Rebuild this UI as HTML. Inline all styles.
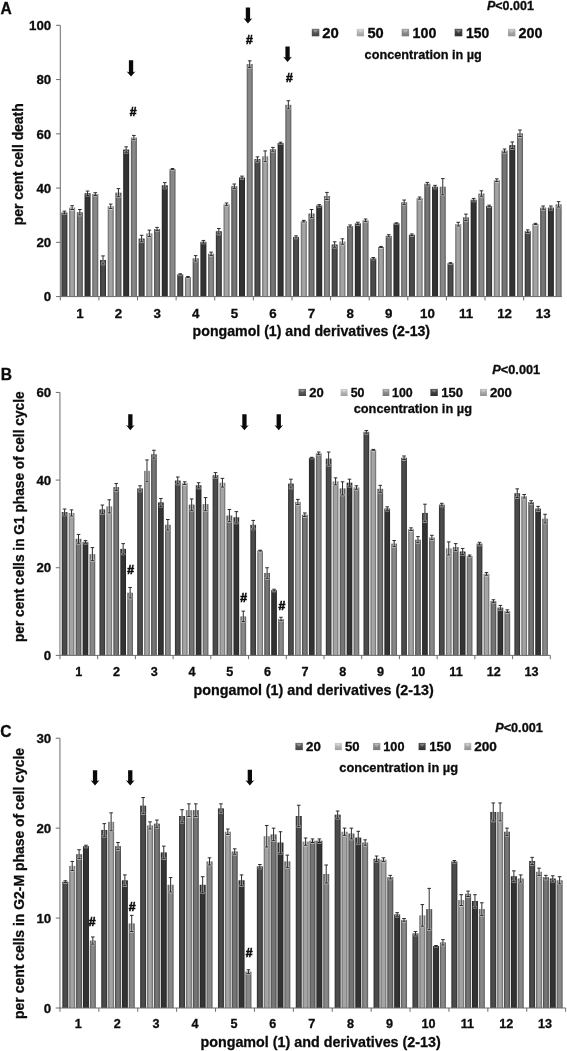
<!DOCTYPE html>
<html lang="en">
<head>
<meta charset="utf-8">
<title>Figure</title>
<style>html,body{margin:0;padding:0;background:#fff}svg{display:block}text{stroke:#0c0c0c;stroke-width:.3px}text.h{stroke-width:.6px}</style>
</head>
<body>
<svg width="567" height="1051" viewBox="0 0 567 1051" font-family='"Liberation Sans", Arial, sans-serif' fill="#0c0c0c">
<defs>
<linearGradient id="g0" x1="0" x2="1" y1="0" y2="0"><stop offset="0" stop-color="#2c2c2c"/><stop offset=".32" stop-color="#4b4b4b"/><stop offset=".68" stop-color="#4b4b4b"/><stop offset="1" stop-color="#2c2c2c"/></linearGradient>
<linearGradient id="s0" x1="0" x2="0" y1="0" y2="1"><stop offset="0" stop-color="#6a6a6a"/><stop offset="1" stop-color="#424242"/></linearGradient>
<linearGradient id="g1" x1="0" x2="1" y1="0" y2="0"><stop offset="0" stop-color="#636363"/><stop offset=".32" stop-color="#a4a4a4"/><stop offset=".68" stop-color="#a4a4a4"/><stop offset="1" stop-color="#636363"/></linearGradient>
<linearGradient id="s1" x1="0" x2="0" y1="0" y2="1"><stop offset="0" stop-color="#cccccc"/><stop offset="1" stop-color="#9e9e9e"/></linearGradient>
<linearGradient id="g2" x1="0" x2="1" y1="0" y2="0"><stop offset="0" stop-color="#444444"/><stop offset=".32" stop-color="#757575"/><stop offset=".68" stop-color="#757575"/><stop offset="1" stop-color="#444444"/></linearGradient>
<linearGradient id="s2" x1="0" x2="0" y1="0" y2="1"><stop offset="0" stop-color="#a0a0a0"/><stop offset="1" stop-color="#767676"/></linearGradient>
<linearGradient id="g3" x1="0" x2="1" y1="0" y2="0"><stop offset="0" stop-color="#242424"/><stop offset=".32" stop-color="#333333"/><stop offset=".68" stop-color="#333333"/><stop offset="1" stop-color="#242424"/></linearGradient>
<linearGradient id="s3" x1="0" x2="0" y1="0" y2="1"><stop offset="0" stop-color="#505050"/><stop offset="1" stop-color="#2e2e2e"/></linearGradient>
<linearGradient id="g4" x1="0" x2="1" y1="0" y2="0"><stop offset="0" stop-color="#565656"/><stop offset=".32" stop-color="#888888"/><stop offset=".68" stop-color="#888888"/><stop offset="1" stop-color="#565656"/></linearGradient>
<linearGradient id="s4" x1="0" x2="0" y1="0" y2="1"><stop offset="0" stop-color="#bcbcbc"/><stop offset="1" stop-color="#929292"/></linearGradient>
</defs>
<rect width="567" height="1051" fill="#fff"/>
<rect x="61.40" y="212.50" width="6.00" height="84.10" fill="url(#g0)"/>
<rect x="69.12" y="207.61" width="6.00" height="88.99" fill="url(#g1)"/>
<rect x="76.84" y="212.23" width="6.00" height="84.37" fill="url(#g2)"/>
<rect x="84.56" y="193.23" width="6.00" height="103.37" fill="url(#g3)"/>
<rect x="92.28" y="194.05" width="6.00" height="102.55" fill="url(#g4)"/>
<rect x="100.01" y="259.97" width="6.00" height="36.63" fill="url(#g0)"/>
<rect x="107.73" y="206.26" width="6.00" height="90.34" fill="url(#g1)"/>
<rect x="115.45" y="192.69" width="6.00" height="103.91" fill="url(#g2)"/>
<rect x="123.17" y="149.56" width="6.00" height="147.04" fill="url(#g3)"/>
<rect x="130.89" y="137.62" width="6.00" height="158.98" fill="url(#g4)"/>
<rect x="138.62" y="238.54" width="6.00" height="58.06" fill="url(#g0)"/>
<rect x="146.34" y="233.39" width="6.00" height="63.21" fill="url(#g1)"/>
<rect x="154.06" y="229.05" width="6.00" height="67.55" fill="url(#g2)"/>
<rect x="161.78" y="185.37" width="6.00" height="111.23" fill="url(#g3)"/>
<rect x="169.50" y="169.09" width="6.00" height="127.51" fill="url(#g4)"/>
<rect x="177.23" y="274.35" width="6.00" height="22.25" fill="url(#g0)"/>
<rect x="184.95" y="277.07" width="6.00" height="19.53" fill="url(#g1)"/>
<rect x="192.67" y="258.35" width="6.00" height="38.25" fill="url(#g2)"/>
<rect x="200.39" y="241.80" width="6.00" height="54.80" fill="url(#g3)"/>
<rect x="208.11" y="253.73" width="6.00" height="42.87" fill="url(#g4)"/>
<rect x="215.84" y="231.22" width="6.00" height="65.38" fill="url(#g0)"/>
<rect x="223.56" y="204.36" width="6.00" height="92.24" fill="url(#g1)"/>
<rect x="231.28" y="186.18" width="6.00" height="110.42" fill="url(#g2)"/>
<rect x="239.00" y="177.50" width="6.00" height="119.10" fill="url(#g3)"/>
<rect x="246.72" y="64.10" width="6.00" height="232.50" fill="url(#g4)"/>
<rect x="254.45" y="159.05" width="6.00" height="137.55" fill="url(#g0)"/>
<rect x="262.17" y="156.34" width="6.00" height="140.26" fill="url(#g1)"/>
<rect x="269.89" y="149.28" width="6.00" height="147.32" fill="url(#g2)"/>
<rect x="277.61" y="143.04" width="6.00" height="153.56" fill="url(#g3)"/>
<rect x="285.33" y="104.79" width="6.00" height="191.81" fill="url(#g4)"/>
<rect x="293.06" y="236.91" width="6.00" height="59.69" fill="url(#g0)"/>
<rect x="300.78" y="221.18" width="6.00" height="75.42" fill="url(#g1)"/>
<rect x="308.50" y="213.58" width="6.00" height="83.02" fill="url(#g2)"/>
<rect x="316.22" y="205.44" width="6.00" height="91.16" fill="url(#g3)"/>
<rect x="323.94" y="195.95" width="6.00" height="100.65" fill="url(#g4)"/>
<rect x="331.67" y="244.51" width="6.00" height="52.09" fill="url(#g0)"/>
<rect x="339.39" y="241.53" width="6.00" height="55.07" fill="url(#g1)"/>
<rect x="347.11" y="226.06" width="6.00" height="70.54" fill="url(#g2)"/>
<rect x="354.83" y="223.35" width="6.00" height="73.25" fill="url(#g3)"/>
<rect x="362.55" y="220.36" width="6.00" height="76.24" fill="url(#g4)"/>
<rect x="370.28" y="258.35" width="6.00" height="38.25" fill="url(#g0)"/>
<rect x="378.00" y="246.95" width="6.00" height="49.65" fill="url(#g1)"/>
<rect x="385.72" y="235.83" width="6.00" height="60.77" fill="url(#g2)"/>
<rect x="393.44" y="223.35" width="6.00" height="73.25" fill="url(#g3)"/>
<rect x="401.16" y="202.19" width="6.00" height="94.41" fill="url(#g4)"/>
<rect x="408.89" y="234.74" width="6.00" height="61.86" fill="url(#g0)"/>
<rect x="416.61" y="198.12" width="6.00" height="98.48" fill="url(#g1)"/>
<rect x="424.33" y="183.74" width="6.00" height="112.86" fill="url(#g2)"/>
<rect x="432.05" y="186.72" width="6.00" height="109.88" fill="url(#g3)"/>
<rect x="439.77" y="186.72" width="6.00" height="109.88" fill="url(#g4)"/>
<rect x="447.50" y="263.23" width="6.00" height="33.37" fill="url(#g0)"/>
<rect x="455.22" y="224.16" width="6.00" height="72.44" fill="url(#g1)"/>
<rect x="462.94" y="217.38" width="6.00" height="79.22" fill="url(#g2)"/>
<rect x="470.66" y="199.75" width="6.00" height="96.85" fill="url(#g3)"/>
<rect x="478.38" y="193.51" width="6.00" height="103.09" fill="url(#g4)"/>
<rect x="486.11" y="205.99" width="6.00" height="90.61" fill="url(#g0)"/>
<rect x="493.83" y="180.21" width="6.00" height="116.39" fill="url(#g1)"/>
<rect x="501.55" y="150.64" width="6.00" height="145.96" fill="url(#g2)"/>
<rect x="509.27" y="145.21" width="6.00" height="151.39" fill="url(#g3)"/>
<rect x="516.99" y="133.28" width="6.00" height="163.32" fill="url(#g4)"/>
<rect x="524.72" y="231.22" width="6.00" height="65.38" fill="url(#g0)"/>
<rect x="532.44" y="223.89" width="6.00" height="72.71" fill="url(#g1)"/>
<rect x="540.16" y="207.61" width="6.00" height="88.99" fill="url(#g2)"/>
<rect x="547.88" y="207.61" width="6.00" height="88.99" fill="url(#g3)"/>
<rect x="555.60" y="204.36" width="6.00" height="92.24" fill="url(#g4)"/>
<path d="M64.40 212.70V214.45M62.30 213.85H66.50" stroke="#fff" stroke-opacity=".6" stroke-width="2.4" fill="none"/>
<path d="M64.40 211.14V213.85M62.60 211.14H66.20M62.60 213.85H66.20" stroke="#222" stroke-width=".95" fill="none"/>
<path d="M72.12 207.81V210.11M70.02 209.51H74.22" stroke="#fff" stroke-opacity=".6" stroke-width="2.4" fill="none"/>
<path d="M72.12 205.71V209.51M70.32 205.71H73.92M70.32 209.51H73.92" stroke="#222" stroke-width=".95" fill="none"/>
<path d="M79.84 212.43V215.54M77.74 214.94H81.94" stroke="#fff" stroke-opacity=".6" stroke-width="2.4" fill="none"/>
<path d="M79.84 209.51V214.94M78.04 209.51H81.64M78.04 214.94H81.64" stroke="#222" stroke-width=".95" fill="none"/>
<path d="M87.56 193.43V196.01M85.46 195.41H89.66" stroke="#fff" stroke-opacity=".6" stroke-width="2.4" fill="none"/>
<path d="M87.56 191.06V195.41M85.76 191.06H89.36M85.76 195.41H89.36" stroke="#222" stroke-width=".95" fill="none"/>
<path d="M95.28 194.25V196.01M93.18 195.41H97.38" stroke="#fff" stroke-opacity=".6" stroke-width="2.4" fill="none"/>
<path d="M95.28 192.69V195.41M93.48 192.69H97.08M93.48 195.41H97.08" stroke="#222" stroke-width=".95" fill="none"/>
<path d="M103.01 260.17V264.64M100.91 264.04H105.11" stroke="#fff" stroke-opacity=".6" stroke-width="2.4" fill="none"/>
<path d="M103.01 255.91V264.04M101.21 255.91H104.81M101.21 264.04H104.81" stroke="#222" stroke-width=".95" fill="none"/>
<path d="M110.73 206.46V209.03M108.63 208.43H112.83" stroke="#fff" stroke-opacity=".6" stroke-width="2.4" fill="none"/>
<path d="M110.73 204.09V208.43M108.93 204.09H112.53M108.93 208.43H112.53" stroke="#222" stroke-width=".95" fill="none"/>
<path d="M118.45 192.89V197.36M116.35 196.76H120.55" stroke="#fff" stroke-opacity=".6" stroke-width="2.4" fill="none"/>
<path d="M118.45 188.62V196.76M116.65 188.62H120.25M116.65 196.76H120.25" stroke="#222" stroke-width=".95" fill="none"/>
<path d="M126.17 149.76V152.87M124.07 152.27H128.27" stroke="#fff" stroke-opacity=".6" stroke-width="2.4" fill="none"/>
<path d="M126.17 146.84V152.27M124.37 146.84H127.97M124.37 152.27H127.97" stroke="#222" stroke-width=".95" fill="none"/>
<path d="M133.89 137.82V140.39M131.79 139.79H135.99" stroke="#fff" stroke-opacity=".6" stroke-width="2.4" fill="none"/>
<path d="M133.89 135.45V139.79M132.09 135.45H135.69M132.09 139.79H135.69" stroke="#222" stroke-width=".95" fill="none"/>
<path d="M141.62 238.74V242.40M139.52 241.80H143.72" stroke="#fff" stroke-opacity=".6" stroke-width="2.4" fill="none"/>
<path d="M141.62 235.29V241.80M139.82 235.29H143.42M139.82 241.80H143.42" stroke="#222" stroke-width=".95" fill="none"/>
<path d="M149.34 233.59V237.24M147.24 236.64H151.44" stroke="#fff" stroke-opacity=".6" stroke-width="2.4" fill="none"/>
<path d="M149.34 230.13V236.64M147.54 230.13H151.14M147.54 236.64H151.14" stroke="#222" stroke-width=".95" fill="none"/>
<path d="M157.06 229.25V231.27M154.96 230.67H159.16" stroke="#fff" stroke-opacity=".6" stroke-width="2.4" fill="none"/>
<path d="M157.06 227.42V230.67M155.26 227.42H158.86M155.26 230.67H158.86" stroke="#222" stroke-width=".95" fill="none"/>
<path d="M164.78 185.57V188.68M162.68 188.08H166.88" stroke="#fff" stroke-opacity=".6" stroke-width="2.4" fill="none"/>
<path d="M164.78 182.65V188.08M162.98 182.65H166.58M162.98 188.08H166.58" stroke="#222" stroke-width=".95" fill="none"/>
<path d="M172.50 169.29V170.23M170.40 169.63H174.60" stroke="#fff" stroke-opacity=".6" stroke-width="2.4" fill="none"/>
<path d="M172.50 168.55V169.63M170.70 168.55H174.30M170.70 169.63H174.30" stroke="#222" stroke-width=".95" fill="none"/>
<path d="M180.23 274.55V275.50M178.13 274.90H182.33" stroke="#fff" stroke-opacity=".6" stroke-width="2.4" fill="none"/>
<path d="M180.23 273.81V274.90M178.43 273.81H182.03M178.43 274.90H182.03" stroke="#222" stroke-width=".95" fill="none"/>
<path d="M187.95 277.27V278.21M185.85 277.61H190.05" stroke="#fff" stroke-opacity=".6" stroke-width="2.4" fill="none"/>
<path d="M187.95 276.52V277.61M186.15 276.52H189.75M186.15 277.61H189.75" stroke="#222" stroke-width=".95" fill="none"/>
<path d="M195.67 258.55V261.66M193.57 261.06H197.77" stroke="#fff" stroke-opacity=".6" stroke-width="2.4" fill="none"/>
<path d="M195.67 255.63V261.06M193.87 255.63H197.47M193.87 261.06H197.47" stroke="#222" stroke-width=".95" fill="none"/>
<path d="M203.39 242.00V243.75M201.29 243.15H205.49" stroke="#fff" stroke-opacity=".6" stroke-width="2.4" fill="none"/>
<path d="M203.39 240.44V243.15M201.59 240.44H205.19M201.59 243.15H205.19" stroke="#222" stroke-width=".95" fill="none"/>
<path d="M211.11 253.93V255.96M209.01 255.36H213.21" stroke="#fff" stroke-opacity=".6" stroke-width="2.4" fill="none"/>
<path d="M211.11 252.11V255.36M209.31 252.11H212.91M209.31 255.36H212.91" stroke="#222" stroke-width=".95" fill="none"/>
<path d="M218.84 231.42V234.53M216.74 233.93H220.94" stroke="#fff" stroke-opacity=".6" stroke-width="2.4" fill="none"/>
<path d="M218.84 228.50V233.93M217.04 228.50H220.64M217.04 233.93H220.64" stroke="#222" stroke-width=".95" fill="none"/>
<path d="M226.56 204.56V206.31M224.46 205.71H228.66" stroke="#fff" stroke-opacity=".6" stroke-width="2.4" fill="none"/>
<path d="M226.56 203.00V205.71M224.76 203.00H228.36M224.76 205.71H228.36" stroke="#222" stroke-width=".95" fill="none"/>
<path d="M234.28 186.38V188.95M232.18 188.35H236.38" stroke="#fff" stroke-opacity=".6" stroke-width="2.4" fill="none"/>
<path d="M234.28 184.01V188.35M232.48 184.01H236.08M232.48 188.35H236.08" stroke="#222" stroke-width=".95" fill="none"/>
<path d="M242.00 177.70V179.46M239.90 178.86H244.10" stroke="#fff" stroke-opacity=".6" stroke-width="2.4" fill="none"/>
<path d="M242.00 176.14V178.86M240.20 176.14H243.80M240.20 178.86H243.80" stroke="#222" stroke-width=".95" fill="none"/>
<path d="M249.72 64.30V67.95M247.62 67.35H251.82" stroke="#fff" stroke-opacity=".6" stroke-width="2.4" fill="none"/>
<path d="M249.72 60.84V67.35M247.92 60.84H251.52M247.92 67.35H251.52" stroke="#222" stroke-width=".95" fill="none"/>
<path d="M257.45 159.25V161.82M255.35 161.22H259.55" stroke="#fff" stroke-opacity=".6" stroke-width="2.4" fill="none"/>
<path d="M257.45 156.88V161.22M255.65 156.88H259.25M255.65 161.22H259.25" stroke="#222" stroke-width=".95" fill="none"/>
<path d="M265.17 156.54V162.36M263.07 161.76H267.27" stroke="#fff" stroke-opacity=".6" stroke-width="2.4" fill="none"/>
<path d="M265.17 150.91V161.76M263.37 150.91H266.97M263.37 161.76H266.97" stroke="#222" stroke-width=".95" fill="none"/>
<path d="M272.89 149.48V151.78M270.79 151.18H274.99" stroke="#fff" stroke-opacity=".6" stroke-width="2.4" fill="none"/>
<path d="M272.89 147.39V151.18M271.09 147.39H274.69M271.09 151.18H274.69" stroke="#222" stroke-width=".95" fill="none"/>
<path d="M280.61 143.24V144.46M278.51 143.86H282.71" stroke="#fff" stroke-opacity=".6" stroke-width="2.4" fill="none"/>
<path d="M280.61 142.23V143.86M278.81 142.23H282.41M278.81 143.86H282.41" stroke="#222" stroke-width=".95" fill="none"/>
<path d="M288.33 104.99V109.46M286.23 108.86H290.43" stroke="#fff" stroke-opacity=".6" stroke-width="2.4" fill="none"/>
<path d="M288.33 100.72V108.86M286.53 100.72H290.13M286.53 108.86H290.13" stroke="#222" stroke-width=".95" fill="none"/>
<path d="M296.06 237.11V238.60M293.96 238.00H298.16" stroke="#fff" stroke-opacity=".6" stroke-width="2.4" fill="none"/>
<path d="M296.06 235.83V238.00M294.26 235.83H297.86M294.26 238.00H297.86" stroke="#222" stroke-width=".95" fill="none"/>
<path d="M303.78 221.38V222.59M301.68 221.99H305.88" stroke="#fff" stroke-opacity=".6" stroke-width="2.4" fill="none"/>
<path d="M303.78 220.36V221.99M301.98 220.36H305.58M301.98 221.99H305.58" stroke="#222" stroke-width=".95" fill="none"/>
<path d="M311.50 213.78V218.25M309.40 217.65H313.60" stroke="#fff" stroke-opacity=".6" stroke-width="2.4" fill="none"/>
<path d="M311.50 209.51V217.65M309.70 209.51H313.30M309.70 217.65H313.30" stroke="#222" stroke-width=".95" fill="none"/>
<path d="M319.22 205.64V206.86M317.12 206.26H321.32" stroke="#fff" stroke-opacity=".6" stroke-width="2.4" fill="none"/>
<path d="M319.22 204.63V206.26M317.42 204.63H321.02M317.42 206.26H321.02" stroke="#222" stroke-width=".95" fill="none"/>
<path d="M326.94 196.15V200.07M324.84 199.47H329.04" stroke="#fff" stroke-opacity=".6" stroke-width="2.4" fill="none"/>
<path d="M326.94 192.42V199.47M325.14 192.42H328.74M325.14 199.47H328.74" stroke="#222" stroke-width=".95" fill="none"/>
<path d="M334.67 244.71V247.82M332.57 247.22H336.77" stroke="#fff" stroke-opacity=".6" stroke-width="2.4" fill="none"/>
<path d="M334.67 241.80V247.22M332.87 241.80H336.47M332.87 247.22H336.47" stroke="#222" stroke-width=".95" fill="none"/>
<path d="M342.39 241.73V244.84M340.29 244.24H344.49" stroke="#fff" stroke-opacity=".6" stroke-width="2.4" fill="none"/>
<path d="M342.39 238.81V244.24M340.59 238.81H344.19M340.59 244.24H344.19" stroke="#222" stroke-width=".95" fill="none"/>
<path d="M350.11 226.26V227.75M348.01 227.15H352.21" stroke="#fff" stroke-opacity=".6" stroke-width="2.4" fill="none"/>
<path d="M350.11 224.98V227.15M348.31 224.98H351.91M348.31 227.15H351.91" stroke="#222" stroke-width=".95" fill="none"/>
<path d="M357.83 223.55V225.03M355.73 224.43H359.93" stroke="#fff" stroke-opacity=".6" stroke-width="2.4" fill="none"/>
<path d="M357.83 222.26V224.43M356.03 222.26H359.63M356.03 224.43H359.63" stroke="#222" stroke-width=".95" fill="none"/>
<path d="M365.55 220.56V222.32M363.45 221.72H367.65" stroke="#fff" stroke-opacity=".6" stroke-width="2.4" fill="none"/>
<path d="M365.55 219.01V221.72M363.75 219.01H367.35M363.75 221.72H367.35" stroke="#222" stroke-width=".95" fill="none"/>
<path d="M373.28 258.55V259.76M371.18 259.16H375.38" stroke="#fff" stroke-opacity=".6" stroke-width="2.4" fill="none"/>
<path d="M373.28 257.53V259.16M371.48 257.53H375.08M371.48 259.16H375.08" stroke="#222" stroke-width=".95" fill="none"/>
<path d="M381.00 247.15V248.09M378.90 247.49H383.10" stroke="#fff" stroke-opacity=".6" stroke-width="2.4" fill="none"/>
<path d="M381.00 246.41V247.49M379.20 246.41H382.80M379.20 247.49H382.80" stroke="#222" stroke-width=".95" fill="none"/>
<path d="M388.72 236.03V237.51M386.62 236.91H390.82" stroke="#fff" stroke-opacity=".6" stroke-width="2.4" fill="none"/>
<path d="M388.72 234.74V236.91M386.92 234.74H390.52M386.92 236.91H390.52" stroke="#222" stroke-width=".95" fill="none"/>
<path d="M396.44 223.55V224.49M394.34 223.89H398.54" stroke="#fff" stroke-opacity=".6" stroke-width="2.4" fill="none"/>
<path d="M396.44 222.81V223.89M394.64 222.81H398.24M394.64 223.89H398.24" stroke="#222" stroke-width=".95" fill="none"/>
<path d="M404.16 202.39V204.96M402.06 204.36H406.26" stroke="#fff" stroke-opacity=".6" stroke-width="2.4" fill="none"/>
<path d="M404.16 200.02V204.36M402.36 200.02H405.96M402.36 204.36H405.96" stroke="#222" stroke-width=".95" fill="none"/>
<path d="M411.89 234.94V236.16M409.79 235.56H413.99" stroke="#fff" stroke-opacity=".6" stroke-width="2.4" fill="none"/>
<path d="M411.89 233.93V235.56M410.09 233.93H413.69M410.09 235.56H413.69" stroke="#222" stroke-width=".95" fill="none"/>
<path d="M419.61 198.32V199.80M417.51 199.20H421.71" stroke="#fff" stroke-opacity=".6" stroke-width="2.4" fill="none"/>
<path d="M419.61 197.03V199.20M417.81 197.03H421.41M417.81 199.20H421.41" stroke="#222" stroke-width=".95" fill="none"/>
<path d="M427.33 183.94V185.70M425.23 185.10H429.43" stroke="#fff" stroke-opacity=".6" stroke-width="2.4" fill="none"/>
<path d="M427.33 182.38V185.10M425.53 182.38H429.13M425.53 185.10H429.13" stroke="#222" stroke-width=".95" fill="none"/>
<path d="M435.05 186.92V188.68M432.95 188.08H437.15" stroke="#fff" stroke-opacity=".6" stroke-width="2.4" fill="none"/>
<path d="M435.05 185.37V188.08M433.25 185.37H436.85M433.25 188.08H436.85" stroke="#222" stroke-width=".95" fill="none"/>
<path d="M442.77 186.92V195.46M440.67 194.86H444.87" stroke="#fff" stroke-opacity=".6" stroke-width="2.4" fill="none"/>
<path d="M442.77 178.58V194.86M440.97 178.58H444.57M440.97 194.86H444.57" stroke="#222" stroke-width=".95" fill="none"/>
<path d="M450.50 263.43V264.37M448.40 263.77H452.60" stroke="#fff" stroke-opacity=".6" stroke-width="2.4" fill="none"/>
<path d="M450.50 262.69V263.77M448.70 262.69H452.30M448.70 263.77H452.30" stroke="#222" stroke-width=".95" fill="none"/>
<path d="M458.22 224.36V226.66M456.12 226.06H460.32" stroke="#fff" stroke-opacity=".6" stroke-width="2.4" fill="none"/>
<path d="M458.22 222.26V226.06M456.42 222.26H460.02M456.42 226.06H460.02" stroke="#222" stroke-width=".95" fill="none"/>
<path d="M465.94 217.58V221.24M463.84 220.64H468.04" stroke="#fff" stroke-opacity=".6" stroke-width="2.4" fill="none"/>
<path d="M465.94 214.12V220.64M464.14 214.12H467.74M464.14 220.64H467.74" stroke="#222" stroke-width=".95" fill="none"/>
<path d="M473.66 199.95V201.70M471.56 201.10H475.76" stroke="#fff" stroke-opacity=".6" stroke-width="2.4" fill="none"/>
<path d="M473.66 198.39V201.10M471.86 198.39H475.46M471.86 201.10H475.46" stroke="#222" stroke-width=".95" fill="none"/>
<path d="M481.38 193.71V196.82M479.28 196.22H483.48" stroke="#fff" stroke-opacity=".6" stroke-width="2.4" fill="none"/>
<path d="M481.38 190.79V196.22M479.58 190.79H483.18M479.58 196.22H483.18" stroke="#222" stroke-width=".95" fill="none"/>
<path d="M489.11 206.19V207.40M487.01 206.80H491.21" stroke="#fff" stroke-opacity=".6" stroke-width="2.4" fill="none"/>
<path d="M489.11 205.17V206.80M487.31 205.17H490.91M487.31 206.80H490.91" stroke="#222" stroke-width=".95" fill="none"/>
<path d="M496.83 180.41V182.17M494.73 181.57H498.93" stroke="#fff" stroke-opacity=".6" stroke-width="2.4" fill="none"/>
<path d="M496.83 178.86V181.57M495.03 178.86H498.63M495.03 181.57H498.63" stroke="#222" stroke-width=".95" fill="none"/>
<path d="M504.55 150.84V152.87M502.45 152.27H506.65" stroke="#fff" stroke-opacity=".6" stroke-width="2.4" fill="none"/>
<path d="M504.55 149.01V152.27M502.75 149.01H506.35M502.75 152.27H506.35" stroke="#222" stroke-width=".95" fill="none"/>
<path d="M512.27 145.41V149.07M510.17 148.47H514.37" stroke="#fff" stroke-opacity=".6" stroke-width="2.4" fill="none"/>
<path d="M512.27 141.96V148.47M510.47 141.96H514.07M510.47 148.47H514.07" stroke="#222" stroke-width=".95" fill="none"/>
<path d="M519.99 133.48V137.13M517.89 136.53H522.09" stroke="#fff" stroke-opacity=".6" stroke-width="2.4" fill="none"/>
<path d="M519.99 130.02V136.53M518.19 130.02H521.79M518.19 136.53H521.79" stroke="#222" stroke-width=".95" fill="none"/>
<path d="M527.72 231.42V233.17M525.62 232.57H529.82" stroke="#fff" stroke-opacity=".6" stroke-width="2.4" fill="none"/>
<path d="M527.72 229.86V232.57M525.92 229.86H529.52M525.92 232.57H529.52" stroke="#222" stroke-width=".95" fill="none"/>
<path d="M535.44 224.09V225.03M533.34 224.43H537.54" stroke="#fff" stroke-opacity=".6" stroke-width="2.4" fill="none"/>
<path d="M535.44 223.35V224.43M533.64 223.35H537.24M533.64 224.43H537.24" stroke="#222" stroke-width=".95" fill="none"/>
<path d="M543.16 207.81V209.84M541.06 209.24H545.26" stroke="#fff" stroke-opacity=".6" stroke-width="2.4" fill="none"/>
<path d="M543.16 205.99V209.24M541.36 205.99H544.96M541.36 209.24H544.96" stroke="#222" stroke-width=".95" fill="none"/>
<path d="M550.88 207.81V209.84M548.78 209.24H552.98" stroke="#fff" stroke-opacity=".6" stroke-width="2.4" fill="none"/>
<path d="M550.88 205.99V209.24M549.08 205.99H552.68M549.08 209.24H552.68" stroke="#222" stroke-width=".95" fill="none"/>
<path d="M558.60 204.56V207.67M556.50 207.07H560.70" stroke="#fff" stroke-opacity=".6" stroke-width="2.4" fill="none"/>
<path d="M558.60 201.65V207.07M556.80 201.65H560.40M556.80 207.07H560.40" stroke="#222" stroke-width=".95" fill="none"/>
<path d="M60.30 25.30V296.60H561.90M56.10 296.60H60.30M56.10 242.34H60.30M56.10 188.08H60.30M56.10 133.82H60.30M56.10 79.56H60.30M56.10 25.30H60.30M60.30 296.60V300.40M98.91 296.60V300.40M137.52 296.60V300.40M176.13 296.60V300.40M214.74 296.60V300.40M253.35 296.60V300.40M291.96 296.60V300.40M330.57 296.60V300.40M369.18 296.60V300.40M407.79 296.60V300.40M446.40 296.60V300.40M485.01 296.60V300.40M523.62 296.60V300.40" stroke="#6c6c6c" stroke-width="1" fill="none"/>
<text x="51.20" y="301.35" font-size="13.3" font-weight="bold" text-anchor="end">0</text>
<text x="51.20" y="247.09" font-size="13.3" font-weight="bold" text-anchor="end">20</text>
<text x="51.20" y="192.83" font-size="13.3" font-weight="bold" text-anchor="end">40</text>
<text x="51.20" y="138.57" font-size="13.3" font-weight="bold" text-anchor="end">60</text>
<text x="51.20" y="84.31" font-size="13.3" font-weight="bold" text-anchor="end">80</text>
<text x="51.20" y="30.05" font-size="13.3" font-weight="bold" text-anchor="end">100</text>
<text x="79.90" y="317.80" font-size="13.3" font-weight="bold" text-anchor="middle">1</text>
<text x="118.52" y="317.80" font-size="13.3" font-weight="bold" text-anchor="middle">2</text>
<text x="157.12" y="317.80" font-size="13.3" font-weight="bold" text-anchor="middle">3</text>
<text x="195.74" y="317.80" font-size="13.3" font-weight="bold" text-anchor="middle">4</text>
<text x="234.35" y="317.80" font-size="13.3" font-weight="bold" text-anchor="middle">5</text>
<text x="272.95" y="317.80" font-size="13.3" font-weight="bold" text-anchor="middle">6</text>
<text x="311.56" y="317.80" font-size="13.3" font-weight="bold" text-anchor="middle">7</text>
<text x="350.18" y="317.80" font-size="13.3" font-weight="bold" text-anchor="middle">8</text>
<text x="388.79" y="317.80" font-size="13.3" font-weight="bold" text-anchor="middle">9</text>
<text x="427.40" y="317.80" font-size="13.3" font-weight="bold" text-anchor="middle">10</text>
<text x="466.00" y="317.80" font-size="13.3" font-weight="bold" text-anchor="middle">11</text>
<text x="504.62" y="317.80" font-size="13.3" font-weight="bold" text-anchor="middle">12</text>
<text x="543.22" y="317.80" font-size="13.3" font-weight="bold" text-anchor="middle">13</text>
<text x="0.60" y="13.60" font-size="15.6" font-weight="bold" text-anchor="start">A</text>
<text x="23.10" y="225.30" font-size="14.6" font-weight="bold" text-anchor="start" textLength="122.00" lengthAdjust="spacingAndGlyphs" transform="rotate(-90 23.10 225.30)">per cent cell death</text>
<text x="192.60" y="336.20" font-size="14.8" font-weight="bold" text-anchor="start" textLength="237.50" lengthAdjust="spacingAndGlyphs">pongamol (1) and derivatives (2-13)</text>
<rect x="311.80" y="28.80" width="7.50" height="7.50" fill="url(#s0)"/>
<path d="M312.60 29.70L315.55 32.92L318.50 29.70Z" fill="#fff" fill-opacity=".3"/>
<text x="322.20" y="38.30" font-size="13.8" font-weight="bold" text-anchor="start" textLength="16.60" lengthAdjust="spacingAndGlyphs">20</text>
<rect x="356.80" y="28.80" width="7.20" height="7.50" fill="url(#s1)"/>
<path d="M357.60 29.70L360.40 32.92L363.20 29.70Z" fill="#fff" fill-opacity=".3"/>
<text x="367.40" y="38.30" font-size="13.8" font-weight="bold" text-anchor="start" textLength="16.30" lengthAdjust="spacingAndGlyphs">50</text>
<rect x="401.70" y="28.80" width="7.40" height="7.50" fill="url(#s2)"/>
<path d="M402.50 29.70L405.40 32.92L408.30 29.70Z" fill="#fff" fill-opacity=".3"/>
<text x="412.60" y="38.30" font-size="13.8" font-weight="bold" text-anchor="start" textLength="23.80" lengthAdjust="spacingAndGlyphs">100</text>
<rect x="454.70" y="28.80" width="7.60" height="7.50" fill="url(#s3)"/>
<path d="M455.50 29.70L458.50 32.92L461.50 29.70Z" fill="#fff" fill-opacity=".3"/>
<text x="466.00" y="38.30" font-size="13.8" font-weight="bold" text-anchor="start" textLength="23.20" lengthAdjust="spacingAndGlyphs">150</text>
<rect x="508.00" y="28.80" width="7.40" height="7.50" fill="url(#s4)"/>
<path d="M508.80 29.70L511.70 32.92L514.60 29.70Z" fill="#fff" fill-opacity=".3"/>
<text x="518.60" y="38.30" font-size="13.8" font-weight="bold" text-anchor="start" textLength="24.00" lengthAdjust="spacingAndGlyphs">200</text>
<text x="364.60" y="59.00" font-size="13.5" font-weight="bold" text-anchor="start" textLength="117.20" lengthAdjust="spacingAndGlyphs">concentration in µg</text>
<text x="487" y="9.9" font-size="12.3" font-weight="bold" textLength="46.9" lengthAdjust="spacingAndGlyphs"><tspan font-style="italic">P</tspan>&lt;0.001</text>
<path d="M128.90 60.30H133.20V72.20L135.45 71.40L131.05 76.50L126.65 71.40L128.90 72.20Z" fill="#0a0a0a"/>
<text x="129.80" y="116.20" font-size="12.15" font-weight="bold" text-anchor="start" textLength="6.80" lengthAdjust="spacingAndGlyphs" class="h">#</text>
<path d="M245.80 7.60H250.10V19.10L252.35 18.30L247.95 23.40L243.55 18.30L245.80 19.10Z" fill="#0a0a0a"/>
<text x="246.10" y="43.60" font-size="12.15" font-weight="bold" text-anchor="start" textLength="6.80" lengthAdjust="spacingAndGlyphs" class="h">#</text>
<path d="M285.40 46.60H289.70V57.60L291.95 56.80L287.55 61.90L283.15 56.80L285.40 57.60Z" fill="#0a0a0a"/>
<text x="286.00" y="82.10" font-size="12.15" font-weight="bold" text-anchor="start" textLength="6.80" lengthAdjust="spacingAndGlyphs" class="h">#</text>
<rect x="61.75" y="512.08" width="5.70" height="143.32" fill="url(#g0)"/>
<rect x="68.70" y="512.95" width="5.70" height="142.45" fill="url(#g1)"/>
<rect x="75.65" y="538.81" width="5.70" height="116.59" fill="url(#g2)"/>
<rect x="82.60" y="541.88" width="5.70" height="113.52" fill="url(#g3)"/>
<rect x="89.55" y="554.15" width="5.70" height="101.25" fill="url(#g4)"/>
<rect x="99.47" y="509.45" width="5.70" height="145.95" fill="url(#g0)"/>
<rect x="106.42" y="506.38" width="5.70" height="149.02" fill="url(#g1)"/>
<rect x="113.37" y="487.09" width="5.70" height="168.31" fill="url(#g2)"/>
<rect x="120.32" y="548.89" width="5.70" height="106.51" fill="url(#g3)"/>
<rect x="127.27" y="592.72" width="5.70" height="62.68" fill="url(#g4)"/>
<rect x="137.19" y="488.41" width="5.70" height="166.99" fill="url(#g0)"/>
<rect x="144.14" y="470.88" width="5.70" height="184.52" fill="url(#g1)"/>
<rect x="151.09" y="454.22" width="5.70" height="201.18" fill="url(#g2)"/>
<rect x="158.04" y="502.43" width="5.70" height="152.97" fill="url(#g3)"/>
<rect x="164.99" y="524.79" width="5.70" height="130.61" fill="url(#g4)"/>
<rect x="174.91" y="480.52" width="5.70" height="174.88" fill="url(#g0)"/>
<rect x="181.86" y="483.15" width="5.70" height="172.25" fill="url(#g1)"/>
<rect x="188.81" y="504.62" width="5.70" height="150.78" fill="url(#g2)"/>
<rect x="195.76" y="485.34" width="5.70" height="170.06" fill="url(#g3)"/>
<rect x="202.71" y="504.19" width="5.70" height="151.21" fill="url(#g4)"/>
<rect x="212.63" y="475.26" width="5.70" height="180.14" fill="url(#g0)"/>
<rect x="219.58" y="482.71" width="5.70" height="172.69" fill="url(#g1)"/>
<rect x="226.53" y="515.58" width="5.70" height="139.82" fill="url(#g2)"/>
<rect x="233.48" y="517.34" width="5.70" height="138.06" fill="url(#g3)"/>
<rect x="240.43" y="616.39" width="5.70" height="39.01" fill="url(#g4)"/>
<rect x="250.35" y="524.79" width="5.70" height="130.61" fill="url(#g0)"/>
<rect x="257.30" y="550.65" width="5.70" height="104.75" fill="url(#g1)"/>
<rect x="264.25" y="573.00" width="5.70" height="82.40" fill="url(#g2)"/>
<rect x="271.20" y="590.09" width="5.70" height="65.31" fill="url(#g3)"/>
<rect x="278.15" y="619.02" width="5.70" height="36.38" fill="url(#g4)"/>
<rect x="288.07" y="483.59" width="5.70" height="171.81" fill="url(#g0)"/>
<rect x="295.02" y="502.00" width="5.70" height="153.41" fill="url(#g1)"/>
<rect x="301.97" y="514.71" width="5.70" height="140.69" fill="url(#g2)"/>
<rect x="308.92" y="457.73" width="5.70" height="197.67" fill="url(#g3)"/>
<rect x="315.87" y="453.34" width="5.70" height="202.06" fill="url(#g4)"/>
<rect x="325.79" y="458.60" width="5.70" height="196.80" fill="url(#g0)"/>
<rect x="332.74" y="481.39" width="5.70" height="174.01" fill="url(#g1)"/>
<rect x="339.69" y="488.41" width="5.70" height="166.99" fill="url(#g2)"/>
<rect x="346.64" y="482.71" width="5.70" height="172.69" fill="url(#g3)"/>
<rect x="353.59" y="487.53" width="5.70" height="167.87" fill="url(#g4)"/>
<rect x="363.51" y="431.87" width="5.70" height="223.53" fill="url(#g0)"/>
<rect x="370.46" y="449.84" width="5.70" height="205.56" fill="url(#g1)"/>
<rect x="377.41" y="488.85" width="5.70" height="166.55" fill="url(#g2)"/>
<rect x="384.36" y="508.57" width="5.70" height="146.83" fill="url(#g3)"/>
<rect x="391.31" y="543.63" width="5.70" height="111.77" fill="url(#g4)"/>
<rect x="401.23" y="457.73" width="5.70" height="197.67" fill="url(#g0)"/>
<rect x="408.18" y="529.17" width="5.70" height="126.23" fill="url(#g1)"/>
<rect x="415.13" y="539.69" width="5.70" height="115.71" fill="url(#g2)"/>
<rect x="422.08" y="512.95" width="5.70" height="142.45" fill="url(#g3)"/>
<rect x="429.03" y="537.50" width="5.70" height="117.90" fill="url(#g4)"/>
<rect x="438.95" y="504.62" width="5.70" height="150.78" fill="url(#g0)"/>
<rect x="445.90" y="548.45" width="5.70" height="106.95" fill="url(#g1)"/>
<rect x="452.85" y="547.14" width="5.70" height="108.26" fill="url(#g2)"/>
<rect x="459.80" y="551.52" width="5.70" height="103.88" fill="url(#g3)"/>
<rect x="466.75" y="555.91" width="5.70" height="99.49" fill="url(#g4)"/>
<rect x="476.67" y="543.63" width="5.70" height="111.77" fill="url(#g0)"/>
<rect x="483.62" y="573.88" width="5.70" height="81.52" fill="url(#g1)"/>
<rect x="490.57" y="601.05" width="5.70" height="54.35" fill="url(#g2)"/>
<rect x="497.52" y="607.63" width="5.70" height="47.77" fill="url(#g3)"/>
<rect x="504.47" y="611.13" width="5.70" height="44.27" fill="url(#g4)"/>
<rect x="514.39" y="493.23" width="5.70" height="162.17" fill="url(#g0)"/>
<rect x="521.34" y="496.30" width="5.70" height="159.10" fill="url(#g1)"/>
<rect x="528.29" y="502.00" width="5.70" height="153.41" fill="url(#g2)"/>
<rect x="535.24" y="508.57" width="5.70" height="146.83" fill="url(#g3)"/>
<rect x="542.19" y="518.65" width="5.70" height="136.75" fill="url(#g4)"/>
<path d="M64.60 512.28V515.74M62.50 515.14H66.70" stroke="#fff" stroke-opacity=".6" stroke-width="2.4" fill="none"/>
<path d="M64.60 509.01V515.14M62.80 509.01H66.40M62.80 515.14H66.40" stroke="#222" stroke-width=".95" fill="none"/>
<path d="M71.55 513.15V516.62M69.45 516.02H73.65" stroke="#fff" stroke-opacity=".6" stroke-width="2.4" fill="none"/>
<path d="M71.55 509.88V516.02M69.75 509.88H73.35M69.75 516.02H73.35" stroke="#222" stroke-width=".95" fill="none"/>
<path d="M78.50 539.01V543.80M76.40 543.20H80.60" stroke="#fff" stroke-opacity=".6" stroke-width="2.4" fill="none"/>
<path d="M78.50 534.43V543.20M76.70 534.43H80.30M76.70 543.20H80.30" stroke="#222" stroke-width=".95" fill="none"/>
<path d="M85.45 542.08V543.80M83.35 543.20H87.55" stroke="#fff" stroke-opacity=".6" stroke-width="2.4" fill="none"/>
<path d="M85.45 540.57V543.20M83.65 540.57H87.25M83.65 543.20H87.25" stroke="#222" stroke-width=".95" fill="none"/>
<path d="M92.40 554.35V561.33M90.30 560.73H94.50" stroke="#fff" stroke-opacity=".6" stroke-width="2.4" fill="none"/>
<path d="M92.40 547.58V560.73M90.60 547.58H94.20M90.60 560.73H94.20" stroke="#222" stroke-width=".95" fill="none"/>
<path d="M102.32 509.65V514.43M100.22 513.83H104.42" stroke="#fff" stroke-opacity=".6" stroke-width="2.4" fill="none"/>
<path d="M102.32 505.06V513.83M100.52 505.06H104.12M100.52 513.83H104.12" stroke="#222" stroke-width=".95" fill="none"/>
<path d="M109.27 506.58V513.55M107.17 512.95H111.37" stroke="#fff" stroke-opacity=".6" stroke-width="2.4" fill="none"/>
<path d="M109.27 499.80V512.95M107.47 499.80H111.07M107.47 512.95H111.07" stroke="#222" stroke-width=".95" fill="none"/>
<path d="M116.22 487.29V491.20M114.12 490.60H118.32" stroke="#fff" stroke-opacity=".6" stroke-width="2.4" fill="none"/>
<path d="M116.22 483.59V490.60M114.42 483.59H118.02M114.42 490.60H118.02" stroke="#222" stroke-width=".95" fill="none"/>
<path d="M123.17 549.09V554.75M121.07 554.15H125.27" stroke="#fff" stroke-opacity=".6" stroke-width="2.4" fill="none"/>
<path d="M123.17 543.63V554.15M121.37 543.63H124.97M121.37 554.15H124.97" stroke="#222" stroke-width=".95" fill="none"/>
<path d="M130.12 592.92V598.58M128.02 597.98H132.22" stroke="#fff" stroke-opacity=".6" stroke-width="2.4" fill="none"/>
<path d="M130.12 587.46V597.98M128.32 587.46H131.92M128.32 597.98H131.92" stroke="#222" stroke-width=".95" fill="none"/>
<path d="M140.04 488.61V491.64M137.94 491.04H142.14" stroke="#fff" stroke-opacity=".6" stroke-width="2.4" fill="none"/>
<path d="M140.04 485.78V491.04M138.24 485.78H141.84M138.24 491.04H141.84" stroke="#222" stroke-width=".95" fill="none"/>
<path d="M146.99 471.08V482.43M144.89 481.83H149.09" stroke="#fff" stroke-opacity=".6" stroke-width="2.4" fill="none"/>
<path d="M146.99 459.92V481.83M145.19 459.92H148.79M145.19 481.83H148.79" stroke="#222" stroke-width=".95" fill="none"/>
<path d="M153.94 454.42V458.76M151.84 458.16H156.04" stroke="#fff" stroke-opacity=".6" stroke-width="2.4" fill="none"/>
<path d="M153.94 450.28V458.16M152.14 450.28H155.74M152.14 458.16H155.74" stroke="#222" stroke-width=".95" fill="none"/>
<path d="M160.89 502.63V506.98M158.79 506.38H162.99" stroke="#fff" stroke-opacity=".6" stroke-width="2.4" fill="none"/>
<path d="M160.89 498.49V506.38M159.09 498.49H162.69M159.09 506.38H162.69" stroke="#222" stroke-width=".95" fill="none"/>
<path d="M167.84 524.99V530.65M165.74 530.05H169.94" stroke="#fff" stroke-opacity=".6" stroke-width="2.4" fill="none"/>
<path d="M167.84 519.53V530.05M166.04 519.53H169.64M166.04 530.05H169.64" stroke="#222" stroke-width=".95" fill="none"/>
<path d="M177.76 480.72V484.62M175.66 484.02H179.86" stroke="#fff" stroke-opacity=".6" stroke-width="2.4" fill="none"/>
<path d="M177.76 477.01V484.02M175.96 477.01H179.56M175.96 484.02H179.56" stroke="#222" stroke-width=".95" fill="none"/>
<path d="M184.71 483.35V485.06M182.61 484.46H186.81" stroke="#fff" stroke-opacity=".6" stroke-width="2.4" fill="none"/>
<path d="M184.71 481.83V484.46M182.91 481.83H186.51M182.91 484.46H186.51" stroke="#222" stroke-width=".95" fill="none"/>
<path d="M191.66 504.82V510.92M189.56 510.32H193.76" stroke="#fff" stroke-opacity=".6" stroke-width="2.4" fill="none"/>
<path d="M191.66 498.93V510.32M189.86 498.93H193.46M189.86 510.32H193.46" stroke="#222" stroke-width=".95" fill="none"/>
<path d="M198.61 485.54V488.57M196.51 487.97H200.71" stroke="#fff" stroke-opacity=".6" stroke-width="2.4" fill="none"/>
<path d="M198.61 482.71V487.97M196.81 482.71H200.41M196.81 487.97H200.41" stroke="#222" stroke-width=".95" fill="none"/>
<path d="M205.56 504.39V511.36M203.46 510.76H207.66" stroke="#fff" stroke-opacity=".6" stroke-width="2.4" fill="none"/>
<path d="M205.56 497.61V510.76M203.76 497.61H207.36M203.76 510.76H207.36" stroke="#222" stroke-width=".95" fill="none"/>
<path d="M215.48 475.46V478.49M213.38 477.89H217.58" stroke="#fff" stroke-opacity=".6" stroke-width="2.4" fill="none"/>
<path d="M215.48 472.63V477.89M213.68 472.63H217.28M213.68 477.89H217.28" stroke="#222" stroke-width=".95" fill="none"/>
<path d="M222.43 482.91V487.69M220.33 487.09H224.53" stroke="#fff" stroke-opacity=".6" stroke-width="2.4" fill="none"/>
<path d="M222.43 478.33V487.09M220.63 478.33H224.23M220.63 487.09H224.23" stroke="#222" stroke-width=".95" fill="none"/>
<path d="M229.38 515.78V522.32M227.28 521.72H231.48" stroke="#fff" stroke-opacity=".6" stroke-width="2.4" fill="none"/>
<path d="M229.38 509.45V521.72M227.58 509.45H231.18M227.58 521.72H231.18" stroke="#222" stroke-width=".95" fill="none"/>
<path d="M236.33 517.54V523.63M234.23 523.03H238.43" stroke="#fff" stroke-opacity=".6" stroke-width="2.4" fill="none"/>
<path d="M236.33 511.64V523.03M234.53 511.64H238.13M234.53 523.03H238.13" stroke="#222" stroke-width=".95" fill="none"/>
<path d="M243.28 616.59V622.25M241.18 621.65H245.38" stroke="#fff" stroke-opacity=".6" stroke-width="2.4" fill="none"/>
<path d="M243.28 611.13V621.65M241.48 611.13H245.08M241.48 621.65H245.08" stroke="#222" stroke-width=".95" fill="none"/>
<path d="M253.20 524.99V529.77M251.10 529.17H255.30" stroke="#fff" stroke-opacity=".6" stroke-width="2.4" fill="none"/>
<path d="M253.20 520.40V529.17M251.40 520.40H255.00M251.40 529.17H255.00" stroke="#222" stroke-width=".95" fill="none"/>
<path d="M260.15 550.85V551.68M258.05 551.08H262.25" stroke="#fff" stroke-opacity=".6" stroke-width="2.4" fill="none"/>
<path d="M260.15 550.21V551.08M258.35 550.21H261.95M258.35 551.08H261.95" stroke="#222" stroke-width=".95" fill="none"/>
<path d="M267.10 573.20V578.86M265.00 578.26H269.20" stroke="#fff" stroke-opacity=".6" stroke-width="2.4" fill="none"/>
<path d="M267.10 567.74V578.26M265.30 567.74H268.90M265.30 578.26H268.90" stroke="#222" stroke-width=".95" fill="none"/>
<path d="M274.05 590.29V591.57M271.95 590.97H276.15" stroke="#fff" stroke-opacity=".6" stroke-width="2.4" fill="none"/>
<path d="M274.05 589.22V590.97M272.25 589.22H275.85M272.25 590.97H275.85" stroke="#222" stroke-width=".95" fill="none"/>
<path d="M281.00 619.22V621.37M278.90 620.77H283.10" stroke="#fff" stroke-opacity=".6" stroke-width="2.4" fill="none"/>
<path d="M281.00 617.27V620.77M279.20 617.27H282.80M279.20 620.77H282.80" stroke="#222" stroke-width=".95" fill="none"/>
<path d="M290.92 483.79V488.57M288.82 487.97H293.02" stroke="#fff" stroke-opacity=".6" stroke-width="2.4" fill="none"/>
<path d="M290.92 479.20V487.97M289.12 479.20H292.72M289.12 487.97H292.72" stroke="#222" stroke-width=".95" fill="none"/>
<path d="M297.87 502.19V505.22M295.77 504.62H299.97" stroke="#fff" stroke-opacity=".6" stroke-width="2.4" fill="none"/>
<path d="M297.87 499.37V504.62M296.07 499.37H299.67M296.07 504.62H299.67" stroke="#222" stroke-width=".95" fill="none"/>
<path d="M304.82 514.91V517.06M302.72 516.46H306.92" stroke="#fff" stroke-opacity=".6" stroke-width="2.4" fill="none"/>
<path d="M304.82 512.95V516.46M303.02 512.95H306.62M303.02 516.46H306.62" stroke="#222" stroke-width=".95" fill="none"/>
<path d="M311.77 457.93V458.76M309.67 458.16H313.87" stroke="#fff" stroke-opacity=".6" stroke-width="2.4" fill="none"/>
<path d="M311.77 457.29V458.16M309.97 457.29H313.57M309.97 458.16H313.57" stroke="#222" stroke-width=".95" fill="none"/>
<path d="M318.72 453.54V455.26M316.62 454.66H320.82" stroke="#fff" stroke-opacity=".6" stroke-width="2.4" fill="none"/>
<path d="M318.72 452.03V454.66M316.92 452.03H320.52M316.92 454.66H320.52" stroke="#222" stroke-width=".95" fill="none"/>
<path d="M328.64 458.80V465.78M326.54 465.18H330.74" stroke="#fff" stroke-opacity=".6" stroke-width="2.4" fill="none"/>
<path d="M328.64 452.03V465.18M326.84 452.03H330.44M326.84 465.18H330.44" stroke="#222" stroke-width=".95" fill="none"/>
<path d="M335.59 481.59V485.50M333.49 484.90H337.69" stroke="#fff" stroke-opacity=".6" stroke-width="2.4" fill="none"/>
<path d="M335.59 477.89V484.90M333.79 477.89H337.39M333.79 484.90H337.39" stroke="#222" stroke-width=".95" fill="none"/>
<path d="M342.54 488.61V495.58M340.44 494.98H344.64" stroke="#fff" stroke-opacity=".6" stroke-width="2.4" fill="none"/>
<path d="M342.54 481.83V494.98M340.74 481.83H344.34M340.74 494.98H344.34" stroke="#222" stroke-width=".95" fill="none"/>
<path d="M349.49 482.91V486.82M347.39 486.22H351.59" stroke="#fff" stroke-opacity=".6" stroke-width="2.4" fill="none"/>
<path d="M349.49 479.20V486.22M347.69 479.20H351.29M347.69 486.22H351.29" stroke="#222" stroke-width=".95" fill="none"/>
<path d="M356.44 487.73V489.88M354.34 489.28H358.54" stroke="#fff" stroke-opacity=".6" stroke-width="2.4" fill="none"/>
<path d="M356.44 485.78V489.28M354.64 485.78H358.24M354.64 489.28H358.24" stroke="#222" stroke-width=".95" fill="none"/>
<path d="M366.36 432.07V433.78M364.26 433.18H368.46" stroke="#fff" stroke-opacity=".6" stroke-width="2.4" fill="none"/>
<path d="M366.36 430.55V433.18M364.56 430.55H368.16M364.56 433.18H368.16" stroke="#222" stroke-width=".95" fill="none"/>
<path d="M373.31 450.04V450.88M371.21 450.28H375.41" stroke="#fff" stroke-opacity=".6" stroke-width="2.4" fill="none"/>
<path d="M373.31 449.40V450.28M371.51 449.40H375.11M371.51 450.28H375.11" stroke="#222" stroke-width=".95" fill="none"/>
<path d="M380.26 489.05V492.95M378.16 492.35H382.36" stroke="#fff" stroke-opacity=".6" stroke-width="2.4" fill="none"/>
<path d="M380.26 485.34V492.35M378.46 485.34H382.06M378.46 492.35H382.06" stroke="#222" stroke-width=".95" fill="none"/>
<path d="M387.21 508.77V510.92M385.11 510.32H389.31" stroke="#fff" stroke-opacity=".6" stroke-width="2.4" fill="none"/>
<path d="M387.21 506.82V510.32M385.41 506.82H389.01M385.41 510.32H389.01" stroke="#222" stroke-width=".95" fill="none"/>
<path d="M394.16 543.83V547.30M392.06 546.70H396.26" stroke="#fff" stroke-opacity=".6" stroke-width="2.4" fill="none"/>
<path d="M394.16 540.57V546.70M392.36 540.57H395.96M392.36 546.70H395.96" stroke="#222" stroke-width=".95" fill="none"/>
<path d="M404.08 457.93V460.08M401.98 459.48H406.18" stroke="#fff" stroke-opacity=".6" stroke-width="2.4" fill="none"/>
<path d="M404.08 455.97V459.48M402.28 455.97H405.88M402.28 459.48H405.88" stroke="#222" stroke-width=".95" fill="none"/>
<path d="M411.03 529.37V531.08M408.93 530.48H413.13" stroke="#fff" stroke-opacity=".6" stroke-width="2.4" fill="none"/>
<path d="M411.03 527.85V530.48M409.23 527.85H412.83M409.23 530.48H412.83" stroke="#222" stroke-width=".95" fill="none"/>
<path d="M417.98 539.89V543.36M415.88 542.76H420.08" stroke="#fff" stroke-opacity=".6" stroke-width="2.4" fill="none"/>
<path d="M417.98 536.62V542.76M416.18 536.62H419.78M416.18 542.76H419.78" stroke="#222" stroke-width=".95" fill="none"/>
<path d="M424.93 513.15V522.32M422.83 521.72H427.03" stroke="#fff" stroke-opacity=".6" stroke-width="2.4" fill="none"/>
<path d="M424.93 504.19V521.72M423.13 504.19H426.73M423.13 521.72H426.73" stroke="#222" stroke-width=".95" fill="none"/>
<path d="M431.88 537.70V540.29M429.78 539.69H433.98" stroke="#fff" stroke-opacity=".6" stroke-width="2.4" fill="none"/>
<path d="M431.88 535.31V539.69M430.08 535.31H433.68M430.08 539.69H433.68" stroke="#222" stroke-width=".95" fill="none"/>
<path d="M441.80 504.82V506.54M439.70 505.94H443.90" stroke="#fff" stroke-opacity=".6" stroke-width="2.4" fill="none"/>
<path d="M441.80 503.31V505.94M440.00 503.31H443.60M440.00 505.94H443.60" stroke="#222" stroke-width=".95" fill="none"/>
<path d="M448.75 548.65V555.63M446.65 555.03H450.85" stroke="#fff" stroke-opacity=".6" stroke-width="2.4" fill="none"/>
<path d="M448.75 541.88V555.03M446.95 541.88H450.55M446.95 555.03H450.55" stroke="#222" stroke-width=".95" fill="none"/>
<path d="M455.70 547.34V551.25M453.60 550.65H457.80" stroke="#fff" stroke-opacity=".6" stroke-width="2.4" fill="none"/>
<path d="M455.70 543.63V550.65M453.90 543.63H457.50M453.90 550.65H457.50" stroke="#222" stroke-width=".95" fill="none"/>
<path d="M462.65 551.72V555.19M460.55 554.59H464.75" stroke="#fff" stroke-opacity=".6" stroke-width="2.4" fill="none"/>
<path d="M462.65 548.45V554.59M460.85 548.45H464.45M460.85 554.59H464.45" stroke="#222" stroke-width=".95" fill="none"/>
<path d="M469.60 556.11V557.38M467.50 556.78H471.70" stroke="#fff" stroke-opacity=".6" stroke-width="2.4" fill="none"/>
<path d="M469.60 555.03V556.78M467.80 555.03H471.40M467.80 556.78H471.40" stroke="#222" stroke-width=".95" fill="none"/>
<path d="M479.52 543.83V545.55M477.42 544.95H481.62" stroke="#fff" stroke-opacity=".6" stroke-width="2.4" fill="none"/>
<path d="M479.52 542.32V544.95M477.72 542.32H481.32M477.72 544.95H481.32" stroke="#222" stroke-width=".95" fill="none"/>
<path d="M486.47 574.08V575.79M484.37 575.19H488.57" stroke="#fff" stroke-opacity=".6" stroke-width="2.4" fill="none"/>
<path d="M486.47 572.56V575.19M484.67 572.56H488.27M484.67 575.19H488.27" stroke="#222" stroke-width=".95" fill="none"/>
<path d="M493.42 601.25V602.97M491.32 602.37H495.52" stroke="#fff" stroke-opacity=".6" stroke-width="2.4" fill="none"/>
<path d="M493.42 599.74V602.37M491.62 599.74H495.22M491.62 602.37H495.22" stroke="#222" stroke-width=".95" fill="none"/>
<path d="M500.37 607.83V610.42M498.27 609.82H502.47" stroke="#fff" stroke-opacity=".6" stroke-width="2.4" fill="none"/>
<path d="M500.37 605.43V609.82M498.57 605.43H502.17M498.57 609.82H502.17" stroke="#222" stroke-width=".95" fill="none"/>
<path d="M507.32 611.33V613.05M505.22 612.45H509.42" stroke="#fff" stroke-opacity=".6" stroke-width="2.4" fill="none"/>
<path d="M507.32 609.82V612.45M505.52 609.82H509.12M505.52 612.45H509.12" stroke="#222" stroke-width=".95" fill="none"/>
<path d="M517.24 493.43V498.21M515.14 497.61H519.34" stroke="#fff" stroke-opacity=".6" stroke-width="2.4" fill="none"/>
<path d="M517.24 488.85V497.61M515.44 488.85H519.04M515.44 497.61H519.04" stroke="#222" stroke-width=".95" fill="none"/>
<path d="M524.19 496.50V498.65M522.09 498.05H526.29" stroke="#fff" stroke-opacity=".6" stroke-width="2.4" fill="none"/>
<path d="M524.19 494.54V498.05M522.39 494.54H525.99M522.39 498.05H525.99" stroke="#222" stroke-width=".95" fill="none"/>
<path d="M531.14 502.19V503.91M529.04 503.31H533.24" stroke="#fff" stroke-opacity=".6" stroke-width="2.4" fill="none"/>
<path d="M531.14 500.68V503.31M529.34 500.68H532.94M529.34 503.31H532.94" stroke="#222" stroke-width=".95" fill="none"/>
<path d="M538.09 508.77V511.36M535.99 510.76H540.19" stroke="#fff" stroke-opacity=".6" stroke-width="2.4" fill="none"/>
<path d="M538.09 506.38V510.76M536.29 506.38H539.89M536.29 510.76H539.89" stroke="#222" stroke-width=".95" fill="none"/>
<path d="M545.04 518.85V523.63M542.94 523.03H547.14" stroke="#fff" stroke-opacity=".6" stroke-width="2.4" fill="none"/>
<path d="M545.04 514.27V523.03M543.24 514.27H546.84M543.24 523.03H546.84" stroke="#222" stroke-width=".95" fill="none"/>
<path d="M59.95 392.42V655.40H550.31M55.75 655.40H59.95M55.75 567.74H59.95M55.75 480.08H59.95M55.75 392.42H59.95M59.95 655.40V659.20M97.67 655.40V659.20M135.39 655.40V659.20M173.11 655.40V659.20M210.83 655.40V659.20M248.55 655.40V659.20M286.27 655.40V659.20M323.99 655.40V659.20M361.71 655.40V659.20M399.43 655.40V659.20M437.15 655.40V659.20M474.87 655.40V659.20M512.59 655.40V659.20M550.31 655.40V659.20" stroke="#6c6c6c" stroke-width="1" fill="none"/>
<text x="51.20" y="660.15" font-size="13.3" font-weight="bold" text-anchor="end">0</text>
<text x="51.20" y="572.49" font-size="13.3" font-weight="bold" text-anchor="end">20</text>
<text x="51.20" y="484.83" font-size="13.3" font-weight="bold" text-anchor="end">40</text>
<text x="51.20" y="397.17" font-size="13.3" font-weight="bold" text-anchor="end">60</text>
<text x="78.81" y="676.00" font-size="12.6" font-weight="bold" text-anchor="middle">1</text>
<text x="116.53" y="676.00" font-size="12.6" font-weight="bold" text-anchor="middle">2</text>
<text x="154.25" y="676.00" font-size="12.6" font-weight="bold" text-anchor="middle">3</text>
<text x="191.97" y="676.00" font-size="12.6" font-weight="bold" text-anchor="middle">4</text>
<text x="229.69" y="676.00" font-size="12.6" font-weight="bold" text-anchor="middle">5</text>
<text x="267.41" y="676.00" font-size="12.6" font-weight="bold" text-anchor="middle">6</text>
<text x="305.13" y="676.00" font-size="12.6" font-weight="bold" text-anchor="middle">7</text>
<text x="342.85" y="676.00" font-size="12.6" font-weight="bold" text-anchor="middle">8</text>
<text x="380.57" y="676.00" font-size="12.6" font-weight="bold" text-anchor="middle">9</text>
<text x="418.29" y="676.00" font-size="12.6" font-weight="bold" text-anchor="middle">10</text>
<text x="456.01" y="676.00" font-size="12.6" font-weight="bold" text-anchor="middle">11</text>
<text x="493.73" y="676.00" font-size="12.6" font-weight="bold" text-anchor="middle">12</text>
<text x="531.45" y="676.00" font-size="12.6" font-weight="bold" text-anchor="middle">13</text>
<text x="0.80" y="380.10" font-size="15.6" font-weight="bold" text-anchor="start">B</text>
<text x="24.00" y="642.10" font-size="14.6" font-weight="bold" text-anchor="start" textLength="250.70" lengthAdjust="spacingAndGlyphs" transform="rotate(-90 24.00 642.10)">per cent cells in G1 phase of cell cycle</text>
<text x="193.50" y="695.30" font-size="14.8" font-weight="bold" text-anchor="start" textLength="240.20" lengthAdjust="spacingAndGlyphs">pongamol (1) and derivatives (2-13)</text>
<rect x="298.60" y="388.90" width="7.40" height="7.10" fill="url(#s0)"/>
<path d="M299.40 389.80L302.30 392.80L305.20 389.80Z" fill="#fff" fill-opacity=".3"/>
<text x="309.30" y="397.00" font-size="12.3" font-weight="bold" text-anchor="start" textLength="14.50" lengthAdjust="spacingAndGlyphs">20</text>
<rect x="340.60" y="388.90" width="6.90" height="7.10" fill="url(#s1)"/>
<path d="M341.40 389.80L344.05 392.80L346.70 389.80Z" fill="#fff" fill-opacity=".3"/>
<text x="350.70" y="397.00" font-size="12.3" font-weight="bold" text-anchor="start" textLength="13.80" lengthAdjust="spacingAndGlyphs">50</text>
<rect x="382.60" y="388.90" width="6.70" height="7.10" fill="url(#s2)"/>
<path d="M383.40 389.80L385.95 392.80L388.50 389.80Z" fill="#fff" fill-opacity=".3"/>
<text x="392.00" y="397.00" font-size="12.3" font-weight="bold" text-anchor="start" textLength="20.70" lengthAdjust="spacingAndGlyphs">100</text>
<rect x="430.40" y="388.90" width="7.40" height="7.10" fill="url(#s3)"/>
<path d="M431.20 389.80L434.10 392.80L437.00 389.80Z" fill="#fff" fill-opacity=".3"/>
<text x="441.20" y="397.00" font-size="12.3" font-weight="bold" text-anchor="start" textLength="21.80" lengthAdjust="spacingAndGlyphs">150</text>
<rect x="480.00" y="388.90" width="6.90" height="7.10" fill="url(#s4)"/>
<path d="M480.80 389.80L483.45 392.80L486.10 389.80Z" fill="#fff" fill-opacity=".3"/>
<text x="489.90" y="397.00" font-size="12.3" font-weight="bold" text-anchor="start" textLength="22.00" lengthAdjust="spacingAndGlyphs">200</text>
<text x="353.70" y="413.00" font-size="13.5" font-weight="bold" text-anchor="start" textLength="118.30" lengthAdjust="spacingAndGlyphs">concentration in µg</text>
<text x="492.3" y="373.5" font-size="12.3" font-weight="bold" textLength="47.9" lengthAdjust="spacingAndGlyphs"><tspan font-style="italic">P</tspan>&lt;0.001</text>
<path d="M128.20 414.30H132.50V425.90L134.75 425.10L130.35 430.20L125.95 425.10L128.20 425.90Z" fill="#0a0a0a"/>
<path d="M242.30 414.30H246.60V425.90L248.85 425.10L244.45 430.20L240.05 425.10L242.30 425.90Z" fill="#0a0a0a"/>
<path d="M276.60 414.30H280.90V425.90L283.15 425.10L278.75 430.20L274.35 425.10L276.60 425.90Z" fill="#0a0a0a"/>
<text x="127.30" y="573.50" font-size="11.87" font-weight="bold" text-anchor="start" textLength="6.80" lengthAdjust="spacingAndGlyphs" class="h">#</text>
<text x="240.30" y="602.30" font-size="11.87" font-weight="bold" text-anchor="start" textLength="6.80" lengthAdjust="spacingAndGlyphs" class="h">#</text>
<text x="278.40" y="609.50" font-size="11.87" font-weight="bold" text-anchor="start" textLength="6.80" lengthAdjust="spacingAndGlyphs" class="h">#</text>
<rect x="62.35" y="881.65" width="6.00" height="126.35" fill="url(#g0)"/>
<rect x="69.22" y="865.91" width="6.00" height="142.09" fill="url(#g1)"/>
<rect x="76.09" y="854.22" width="6.00" height="153.78" fill="url(#g2)"/>
<rect x="82.96" y="846.13" width="6.00" height="161.87" fill="url(#g3)"/>
<rect x="89.83" y="940.55" width="6.00" height="67.45" fill="url(#g4)"/>
<rect x="101.25" y="829.94" width="6.00" height="178.06" fill="url(#g0)"/>
<rect x="108.12" y="821.84" width="6.00" height="186.16" fill="url(#g1)"/>
<rect x="114.99" y="846.13" width="6.00" height="161.87" fill="url(#g2)"/>
<rect x="121.86" y="880.30" width="6.00" height="127.70" fill="url(#g3)"/>
<rect x="128.73" y="923.47" width="6.00" height="84.53" fill="url(#g4)"/>
<rect x="140.15" y="805.66" width="6.00" height="202.34" fill="url(#g0)"/>
<rect x="147.02" y="825.44" width="6.00" height="182.56" fill="url(#g1)"/>
<rect x="153.89" y="823.64" width="6.00" height="184.36" fill="url(#g2)"/>
<rect x="160.76" y="852.42" width="6.00" height="155.58" fill="url(#g3)"/>
<rect x="167.63" y="884.80" width="6.00" height="123.20" fill="url(#g4)"/>
<rect x="179.05" y="816.00" width="6.00" height="192.00" fill="url(#g0)"/>
<rect x="185.92" y="810.15" width="6.00" height="197.85" fill="url(#g1)"/>
<rect x="192.79" y="810.15" width="6.00" height="197.85" fill="url(#g2)"/>
<rect x="199.66" y="884.80" width="6.00" height="123.20" fill="url(#g3)"/>
<rect x="206.53" y="861.41" width="6.00" height="146.59" fill="url(#g4)"/>
<rect x="217.95" y="808.36" width="6.00" height="199.64" fill="url(#g0)"/>
<rect x="224.82" y="831.74" width="6.00" height="176.26" fill="url(#g1)"/>
<rect x="231.69" y="851.52" width="6.00" height="156.48" fill="url(#g2)"/>
<rect x="238.56" y="880.30" width="6.00" height="127.70" fill="url(#g3)"/>
<rect x="245.43" y="971.58" width="6.00" height="36.42" fill="url(#g4)"/>
<rect x="256.85" y="866.36" width="6.00" height="141.64" fill="url(#g0)"/>
<rect x="263.72" y="836.23" width="6.00" height="171.77" fill="url(#g1)"/>
<rect x="270.59" y="834.44" width="6.00" height="173.56" fill="url(#g2)"/>
<rect x="277.46" y="842.53" width="6.00" height="165.47" fill="url(#g3)"/>
<rect x="284.33" y="861.41" width="6.00" height="146.59" fill="url(#g4)"/>
<rect x="295.75" y="816.00" width="6.00" height="192.00" fill="url(#g0)"/>
<rect x="302.62" y="841.63" width="6.00" height="166.37" fill="url(#g1)"/>
<rect x="309.49" y="840.73" width="6.00" height="167.27" fill="url(#g2)"/>
<rect x="316.36" y="840.73" width="6.00" height="167.27" fill="url(#g3)"/>
<rect x="323.23" y="874.00" width="6.00" height="134.00" fill="url(#g4)"/>
<rect x="334.65" y="814.65" width="6.00" height="193.35" fill="url(#g0)"/>
<rect x="341.52" y="831.74" width="6.00" height="176.26" fill="url(#g1)"/>
<rect x="348.39" y="833.54" width="6.00" height="174.46" fill="url(#g2)"/>
<rect x="355.26" y="837.58" width="6.00" height="170.42" fill="url(#g3)"/>
<rect x="362.13" y="842.53" width="6.00" height="165.47" fill="url(#g4)"/>
<rect x="373.55" y="858.72" width="6.00" height="149.28" fill="url(#g0)"/>
<rect x="380.42" y="859.62" width="6.00" height="148.38" fill="url(#g1)"/>
<rect x="387.29" y="877.15" width="6.00" height="130.85" fill="url(#g2)"/>
<rect x="394.16" y="914.47" width="6.00" height="93.53" fill="url(#g3)"/>
<rect x="401.03" y="919.87" width="6.00" height="88.13" fill="url(#g4)"/>
<rect x="412.45" y="933.36" width="6.00" height="74.64" fill="url(#g0)"/>
<rect x="419.32" y="915.37" width="6.00" height="92.63" fill="url(#g1)"/>
<rect x="426.19" y="909.08" width="6.00" height="98.92" fill="url(#g2)"/>
<rect x="433.06" y="945.95" width="6.00" height="62.05" fill="url(#g3)"/>
<rect x="439.93" y="942.35" width="6.00" height="65.65" fill="url(#g4)"/>
<rect x="451.35" y="861.41" width="6.00" height="146.59" fill="url(#g0)"/>
<rect x="458.22" y="900.08" width="6.00" height="107.92" fill="url(#g1)"/>
<rect x="465.09" y="893.79" width="6.00" height="114.21" fill="url(#g2)"/>
<rect x="471.96" y="900.98" width="6.00" height="107.02" fill="url(#g3)"/>
<rect x="478.83" y="909.08" width="6.00" height="98.92" fill="url(#g4)"/>
<rect x="490.25" y="811.95" width="6.00" height="196.05" fill="url(#g0)"/>
<rect x="497.12" y="811.95" width="6.00" height="196.05" fill="url(#g1)"/>
<rect x="503.99" y="831.74" width="6.00" height="176.26" fill="url(#g2)"/>
<rect x="510.86" y="876.25" width="6.00" height="131.75" fill="url(#g3)"/>
<rect x="517.73" y="878.50" width="6.00" height="129.50" fill="url(#g4)"/>
<rect x="529.15" y="860.96" width="6.00" height="147.04" fill="url(#g0)"/>
<rect x="536.02" y="871.76" width="6.00" height="136.24" fill="url(#g1)"/>
<rect x="542.89" y="877.15" width="6.00" height="130.85" fill="url(#g2)"/>
<rect x="549.76" y="878.50" width="6.00" height="129.50" fill="url(#g3)"/>
<rect x="556.63" y="880.30" width="6.00" height="127.70" fill="url(#g4)"/>
<path d="M65.35 881.85V883.15M63.25 882.55H67.45" stroke="#fff" stroke-opacity=".6" stroke-width="2.4" fill="none"/>
<path d="M65.35 880.75V882.55M63.55 880.75H67.15M63.55 882.55H67.15" stroke="#222" stroke-width=".95" fill="none"/>
<path d="M72.22 866.11V871.01M70.12 870.41H74.32" stroke="#fff" stroke-opacity=".6" stroke-width="2.4" fill="none"/>
<path d="M72.22 861.41V870.41M70.42 861.41H74.02M70.42 870.41H74.02" stroke="#222" stroke-width=".95" fill="none"/>
<path d="M79.09 854.42V859.32M76.99 858.72H81.19" stroke="#fff" stroke-opacity=".6" stroke-width="2.4" fill="none"/>
<path d="M79.09 849.72V858.72M77.29 849.72H80.89M77.29 858.72H80.89" stroke="#222" stroke-width=".95" fill="none"/>
<path d="M85.96 846.33V847.63M83.86 847.03H88.06" stroke="#fff" stroke-opacity=".6" stroke-width="2.4" fill="none"/>
<path d="M85.96 845.23V847.03M84.16 845.23H87.76M84.16 847.03H87.76" stroke="#222" stroke-width=".95" fill="none"/>
<path d="M92.83 940.75V944.75M90.73 944.15H94.93" stroke="#fff" stroke-opacity=".6" stroke-width="2.4" fill="none"/>
<path d="M92.83 936.96V944.15M91.03 936.96H94.63M91.03 944.15H94.63" stroke="#222" stroke-width=".95" fill="none"/>
<path d="M104.25 830.14V836.83M102.15 836.23H106.35" stroke="#fff" stroke-opacity=".6" stroke-width="2.4" fill="none"/>
<path d="M104.25 823.64V836.23M102.45 823.64H106.05M102.45 836.23H106.05" stroke="#222" stroke-width=".95" fill="none"/>
<path d="M111.12 822.04V831.44M109.02 830.84H113.22" stroke="#fff" stroke-opacity=".6" stroke-width="2.4" fill="none"/>
<path d="M111.12 812.85V830.84M109.32 812.85H112.92M109.32 830.84H112.92" stroke="#222" stroke-width=".95" fill="none"/>
<path d="M117.99 846.33V850.32M115.89 849.72H120.09" stroke="#fff" stroke-opacity=".6" stroke-width="2.4" fill="none"/>
<path d="M117.99 842.53V849.72M116.19 842.53H119.79M116.19 849.72H119.79" stroke="#222" stroke-width=".95" fill="none"/>
<path d="M124.86 880.50V886.30M122.76 885.70H126.96" stroke="#fff" stroke-opacity=".6" stroke-width="2.4" fill="none"/>
<path d="M124.86 874.90V885.70M123.06 874.90H126.66M123.06 885.70H126.66" stroke="#222" stroke-width=".95" fill="none"/>
<path d="M131.73 923.67V932.16M129.63 931.56H133.83" stroke="#fff" stroke-opacity=".6" stroke-width="2.4" fill="none"/>
<path d="M131.73 915.37V931.56M129.93 915.37H133.53M129.93 931.56H133.53" stroke="#222" stroke-width=".95" fill="none"/>
<path d="M143.15 805.86V814.35M141.05 813.75H145.25" stroke="#fff" stroke-opacity=".6" stroke-width="2.4" fill="none"/>
<path d="M143.15 797.56V813.75M141.35 797.56H144.95M141.35 813.75H144.95" stroke="#222" stroke-width=".95" fill="none"/>
<path d="M150.02 825.64V829.64M147.92 829.04H152.12" stroke="#fff" stroke-opacity=".6" stroke-width="2.4" fill="none"/>
<path d="M150.02 821.84V829.04M148.22 821.84H151.82M148.22 829.04H151.82" stroke="#222" stroke-width=".95" fill="none"/>
<path d="M156.89 823.84V827.84M154.79 827.24H158.99" stroke="#fff" stroke-opacity=".6" stroke-width="2.4" fill="none"/>
<path d="M156.89 820.05V827.24M155.09 820.05H158.69M155.09 827.24H158.69" stroke="#222" stroke-width=".95" fill="none"/>
<path d="M163.76 852.62V859.32M161.66 858.72H165.86" stroke="#fff" stroke-opacity=".6" stroke-width="2.4" fill="none"/>
<path d="M163.76 846.13V858.72M161.96 846.13H165.56M161.96 858.72H165.56" stroke="#222" stroke-width=".95" fill="none"/>
<path d="M170.63 885.00V892.59M168.53 891.99H172.73" stroke="#fff" stroke-opacity=".6" stroke-width="2.4" fill="none"/>
<path d="M170.63 877.60V891.99M168.83 877.60H172.43M168.83 891.99H172.43" stroke="#222" stroke-width=".95" fill="none"/>
<path d="M182.05 816.20V822.89M179.95 822.29H184.15" stroke="#fff" stroke-opacity=".6" stroke-width="2.4" fill="none"/>
<path d="M182.05 809.70V822.29M180.25 809.70H183.85M180.25 822.29H183.85" stroke="#222" stroke-width=".95" fill="none"/>
<path d="M188.92 810.35V817.05M186.82 816.45H191.02" stroke="#fff" stroke-opacity=".6" stroke-width="2.4" fill="none"/>
<path d="M188.92 803.86V816.45M187.12 803.86H190.72M187.12 816.45H190.72" stroke="#222" stroke-width=".95" fill="none"/>
<path d="M195.79 810.35V817.05M193.69 816.45H197.89" stroke="#fff" stroke-opacity=".6" stroke-width="2.4" fill="none"/>
<path d="M195.79 803.86V816.45M193.99 803.86H197.59M193.99 816.45H197.59" stroke="#222" stroke-width=".95" fill="none"/>
<path d="M202.66 885.00V893.49M200.56 892.89H204.76" stroke="#fff" stroke-opacity=".6" stroke-width="2.4" fill="none"/>
<path d="M202.66 876.70V892.89M200.86 876.70H204.46M200.86 892.89H204.46" stroke="#222" stroke-width=".95" fill="none"/>
<path d="M209.53 861.61V865.61M207.43 865.01H211.63" stroke="#fff" stroke-opacity=".6" stroke-width="2.4" fill="none"/>
<path d="M209.53 857.82V865.01M207.73 857.82H211.33M207.73 865.01H211.33" stroke="#222" stroke-width=".95" fill="none"/>
<path d="M220.95 808.56V813.45M218.85 812.85H223.05" stroke="#fff" stroke-opacity=".6" stroke-width="2.4" fill="none"/>
<path d="M220.95 803.86V812.85M219.15 803.86H222.75M219.15 812.85H222.75" stroke="#222" stroke-width=".95" fill="none"/>
<path d="M227.82 831.94V835.04M225.72 834.44H229.92" stroke="#fff" stroke-opacity=".6" stroke-width="2.4" fill="none"/>
<path d="M227.82 829.04V834.44M226.02 829.04H229.62M226.02 834.44H229.62" stroke="#222" stroke-width=".95" fill="none"/>
<path d="M234.69 851.72V854.82M232.59 854.22H236.79" stroke="#fff" stroke-opacity=".6" stroke-width="2.4" fill="none"/>
<path d="M234.69 848.82V854.22M232.89 848.82H236.49M232.89 854.22H236.49" stroke="#222" stroke-width=".95" fill="none"/>
<path d="M241.56 880.50V886.30M239.46 885.70H243.66" stroke="#fff" stroke-opacity=".6" stroke-width="2.4" fill="none"/>
<path d="M241.56 874.90V885.70M239.76 874.90H243.36M239.76 885.70H243.36" stroke="#222" stroke-width=".95" fill="none"/>
<path d="M248.43 971.78V973.98M246.33 973.38H250.53" stroke="#fff" stroke-opacity=".6" stroke-width="2.4" fill="none"/>
<path d="M248.43 969.78V973.38M246.63 969.78H250.23M246.63 973.38H250.23" stroke="#222" stroke-width=".95" fill="none"/>
<path d="M259.85 866.56V868.76M257.75 868.16H261.95" stroke="#fff" stroke-opacity=".6" stroke-width="2.4" fill="none"/>
<path d="M259.85 864.56V868.16M258.05 864.56H261.65M258.05 868.16H261.65" stroke="#222" stroke-width=".95" fill="none"/>
<path d="M266.72 836.43V847.63M264.62 847.03H268.82" stroke="#fff" stroke-opacity=".6" stroke-width="2.4" fill="none"/>
<path d="M266.72 825.44V847.03M264.92 825.44H268.52M264.92 847.03H268.52" stroke="#222" stroke-width=".95" fill="none"/>
<path d="M273.59 834.64V841.33M271.49 840.73H275.69" stroke="#fff" stroke-opacity=".6" stroke-width="2.4" fill="none"/>
<path d="M273.59 828.14V840.73M271.79 828.14H275.39M271.79 840.73H275.39" stroke="#222" stroke-width=".95" fill="none"/>
<path d="M280.46 842.73V853.92M278.36 853.32H282.56" stroke="#fff" stroke-opacity=".6" stroke-width="2.4" fill="none"/>
<path d="M280.46 831.74V853.32M278.66 831.74H282.26M278.66 853.32H282.26" stroke="#222" stroke-width=".95" fill="none"/>
<path d="M287.33 861.61V868.31M285.23 867.71H289.43" stroke="#fff" stroke-opacity=".6" stroke-width="2.4" fill="none"/>
<path d="M287.33 855.12V867.71M285.53 855.12H289.13M285.53 867.71H289.13" stroke="#222" stroke-width=".95" fill="none"/>
<path d="M298.75 816.20V827.39M296.65 826.79H300.85" stroke="#fff" stroke-opacity=".6" stroke-width="2.4" fill="none"/>
<path d="M298.75 805.21V826.79M296.95 805.21H300.55M296.95 826.79H300.55" stroke="#222" stroke-width=".95" fill="none"/>
<path d="M305.62 841.83V845.83M303.52 845.23H307.72" stroke="#fff" stroke-opacity=".6" stroke-width="2.4" fill="none"/>
<path d="M305.62 838.03V845.23M303.82 838.03H307.42M303.82 845.23H307.42" stroke="#222" stroke-width=".95" fill="none"/>
<path d="M312.49 840.93V843.13M310.39 842.53H314.59" stroke="#fff" stroke-opacity=".6" stroke-width="2.4" fill="none"/>
<path d="M312.49 838.93V842.53M310.69 838.93H314.29M310.69 842.53H314.29" stroke="#222" stroke-width=".95" fill="none"/>
<path d="M319.36 840.93V843.13M317.26 842.53H321.46" stroke="#fff" stroke-opacity=".6" stroke-width="2.4" fill="none"/>
<path d="M319.36 838.93V842.53M317.56 838.93H321.16M317.56 842.53H321.16" stroke="#222" stroke-width=".95" fill="none"/>
<path d="M326.23 874.20V883.60M324.13 883.00H328.33" stroke="#fff" stroke-opacity=".6" stroke-width="2.4" fill="none"/>
<path d="M326.23 865.01V883.00M324.43 865.01H328.03M324.43 883.00H328.03" stroke="#222" stroke-width=".95" fill="none"/>
<path d="M337.65 814.85V818.85M335.55 818.25H339.75" stroke="#fff" stroke-opacity=".6" stroke-width="2.4" fill="none"/>
<path d="M337.65 811.05V818.25M335.85 811.05H339.45M335.85 818.25H339.45" stroke="#222" stroke-width=".95" fill="none"/>
<path d="M344.52 831.94V835.93M342.42 835.33H346.62" stroke="#fff" stroke-opacity=".6" stroke-width="2.4" fill="none"/>
<path d="M344.52 828.14V835.33M342.72 828.14H346.32M342.72 835.33H346.32" stroke="#222" stroke-width=".95" fill="none"/>
<path d="M351.39 833.74V839.53M349.29 838.93H353.49" stroke="#fff" stroke-opacity=".6" stroke-width="2.4" fill="none"/>
<path d="M351.39 828.14V838.93M349.59 828.14H353.19M349.59 838.93H353.19" stroke="#222" stroke-width=".95" fill="none"/>
<path d="M358.26 837.78V844.48M356.16 843.88H360.36" stroke="#fff" stroke-opacity=".6" stroke-width="2.4" fill="none"/>
<path d="M358.26 831.29V843.88M356.46 831.29H360.06M356.46 843.88H360.06" stroke="#222" stroke-width=".95" fill="none"/>
<path d="M365.13 842.73V845.83M363.03 845.23H367.23" stroke="#fff" stroke-opacity=".6" stroke-width="2.4" fill="none"/>
<path d="M365.13 839.83V845.23M363.33 839.83H366.93M363.33 845.23H366.93" stroke="#222" stroke-width=".95" fill="none"/>
<path d="M376.55 858.92V862.01M374.45 861.41H378.65" stroke="#fff" stroke-opacity=".6" stroke-width="2.4" fill="none"/>
<path d="M376.55 856.02V861.41M374.75 856.02H378.35M374.75 861.41H378.35" stroke="#222" stroke-width=".95" fill="none"/>
<path d="M383.42 859.82V862.01M381.32 861.41H385.52" stroke="#fff" stroke-opacity=".6" stroke-width="2.4" fill="none"/>
<path d="M383.42 857.82V861.41M381.62 857.82H385.22M381.62 861.41H385.22" stroke="#222" stroke-width=".95" fill="none"/>
<path d="M390.29 877.35V879.55M388.19 878.95H392.39" stroke="#fff" stroke-opacity=".6" stroke-width="2.4" fill="none"/>
<path d="M390.29 875.35V878.95M388.49 875.35H392.09M388.49 878.95H392.09" stroke="#222" stroke-width=".95" fill="none"/>
<path d="M397.16 914.67V916.87M395.06 916.27H399.26" stroke="#fff" stroke-opacity=".6" stroke-width="2.4" fill="none"/>
<path d="M397.16 912.67V916.27M395.36 912.67H398.96M395.36 916.27H398.96" stroke="#222" stroke-width=".95" fill="none"/>
<path d="M404.03 920.07V921.82M401.93 921.22H406.13" stroke="#fff" stroke-opacity=".6" stroke-width="2.4" fill="none"/>
<path d="M404.03 918.52V921.22M402.23 918.52H405.83M402.23 921.22H405.83" stroke="#222" stroke-width=".95" fill="none"/>
<path d="M415.45 933.56V935.76M413.35 935.16H417.55" stroke="#fff" stroke-opacity=".6" stroke-width="2.4" fill="none"/>
<path d="M415.45 931.56V935.16M413.65 931.56H417.25M413.65 935.16H417.25" stroke="#222" stroke-width=".95" fill="none"/>
<path d="M422.32 915.57V926.76M420.22 926.16H424.42" stroke="#fff" stroke-opacity=".6" stroke-width="2.4" fill="none"/>
<path d="M422.32 904.58V926.16M420.52 904.58H424.12M420.52 926.16H424.12" stroke="#222" stroke-width=".95" fill="none"/>
<path d="M429.19 909.28V930.36M427.09 929.76H431.29" stroke="#fff" stroke-opacity=".6" stroke-width="2.4" fill="none"/>
<path d="M429.19 888.39V929.76M427.39 888.39H430.99M427.39 929.76H430.99" stroke="#222" stroke-width=".95" fill="none"/>
<path d="M436.06 946.15V947.00M433.96 946.40H438.16" stroke="#fff" stroke-opacity=".6" stroke-width="2.4" fill="none"/>
<path d="M436.06 945.50V946.40M434.26 945.50H437.86M434.26 946.40H437.86" stroke="#222" stroke-width=".95" fill="none"/>
<path d="M442.93 942.55V945.65M440.83 945.05H445.03" stroke="#fff" stroke-opacity=".6" stroke-width="2.4" fill="none"/>
<path d="M442.93 939.65V945.05M441.13 939.65H444.73M441.13 945.05H444.73" stroke="#222" stroke-width=".95" fill="none"/>
<path d="M454.35 861.61V862.91M452.25 862.31H456.45" stroke="#fff" stroke-opacity=".6" stroke-width="2.4" fill="none"/>
<path d="M454.35 860.51V862.31M452.55 860.51H456.15M452.55 862.31H456.15" stroke="#222" stroke-width=".95" fill="none"/>
<path d="M461.22 900.28V906.08M459.12 905.48H463.32" stroke="#fff" stroke-opacity=".6" stroke-width="2.4" fill="none"/>
<path d="M461.22 894.69V905.48M459.42 894.69H463.02M459.42 905.48H463.02" stroke="#222" stroke-width=".95" fill="none"/>
<path d="M468.09 893.99V897.09M465.99 896.49H470.19" stroke="#fff" stroke-opacity=".6" stroke-width="2.4" fill="none"/>
<path d="M468.09 891.09V896.49M466.29 891.09H469.89M466.29 896.49H469.89" stroke="#222" stroke-width=".95" fill="none"/>
<path d="M474.96 901.18V907.88M472.86 907.28H477.06" stroke="#fff" stroke-opacity=".6" stroke-width="2.4" fill="none"/>
<path d="M474.96 894.69V907.28M473.16 894.69H476.76M473.16 907.28H476.76" stroke="#222" stroke-width=".95" fill="none"/>
<path d="M481.83 909.28V915.97M479.73 915.37H483.93" stroke="#fff" stroke-opacity=".6" stroke-width="2.4" fill="none"/>
<path d="M481.83 902.78V915.37M480.03 902.78H483.63M480.03 915.37H483.63" stroke="#222" stroke-width=".95" fill="none"/>
<path d="M493.25 812.15V821.55M491.15 820.95H495.35" stroke="#fff" stroke-opacity=".6" stroke-width="2.4" fill="none"/>
<path d="M493.25 802.96V820.95M491.45 802.96H495.05M491.45 820.95H495.05" stroke="#222" stroke-width=".95" fill="none"/>
<path d="M500.12 812.15V821.55M498.02 820.95H502.22" stroke="#fff" stroke-opacity=".6" stroke-width="2.4" fill="none"/>
<path d="M500.12 802.96V820.95M498.32 802.96H501.92M498.32 820.95H501.92" stroke="#222" stroke-width=".95" fill="none"/>
<path d="M506.99 831.94V835.93M504.89 835.33H509.09" stroke="#fff" stroke-opacity=".6" stroke-width="2.4" fill="none"/>
<path d="M506.99 828.14V835.33M505.19 828.14H508.79M505.19 835.33H508.79" stroke="#222" stroke-width=".95" fill="none"/>
<path d="M513.86 876.45V882.25M511.76 881.65H515.96" stroke="#fff" stroke-opacity=".6" stroke-width="2.4" fill="none"/>
<path d="M513.86 870.86V881.65M512.06 870.86H515.66M512.06 881.65H515.66" stroke="#222" stroke-width=".95" fill="none"/>
<path d="M520.73 878.70V882.70M518.63 882.10H522.83" stroke="#fff" stroke-opacity=".6" stroke-width="2.4" fill="none"/>
<path d="M520.73 874.90V882.10M518.93 874.90H522.53M518.93 882.10H522.53" stroke="#222" stroke-width=".95" fill="none"/>
<path d="M532.15 861.16V865.16M530.05 864.56H534.25" stroke="#fff" stroke-opacity=".6" stroke-width="2.4" fill="none"/>
<path d="M532.15 857.37V864.56M530.35 857.37H533.95M530.35 864.56H533.95" stroke="#222" stroke-width=".95" fill="none"/>
<path d="M539.02 871.96V875.95M536.92 875.35H541.12" stroke="#fff" stroke-opacity=".6" stroke-width="2.4" fill="none"/>
<path d="M539.02 868.16V875.35M537.22 868.16H540.82M537.22 875.35H540.82" stroke="#222" stroke-width=".95" fill="none"/>
<path d="M545.89 877.35V879.55M543.79 878.95H547.99" stroke="#fff" stroke-opacity=".6" stroke-width="2.4" fill="none"/>
<path d="M545.89 875.35V878.95M544.09 875.35H547.69M544.09 878.95H547.69" stroke="#222" stroke-width=".95" fill="none"/>
<path d="M552.76 878.70V881.80M550.66 881.20H554.86" stroke="#fff" stroke-opacity=".6" stroke-width="2.4" fill="none"/>
<path d="M552.76 875.80V881.20M550.96 875.80H554.56M550.96 881.20H554.56" stroke="#222" stroke-width=".95" fill="none"/>
<path d="M559.63 880.50V884.50M557.53 883.90H561.73" stroke="#fff" stroke-opacity=".6" stroke-width="2.4" fill="none"/>
<path d="M559.63 876.70V883.90M557.83 876.70H561.43M557.83 883.90H561.43" stroke="#222" stroke-width=".95" fill="none"/>
<path d="M59.95 738.21V1008.00H565.70M55.75 1008.00H59.95M55.75 918.07H59.95M55.75 828.14H59.95M55.75 738.21H59.95M59.95 1008.00V1011.80M98.85 1008.00V1011.80M137.75 1008.00V1011.80M176.65 1008.00V1011.80M215.55 1008.00V1011.80M254.45 1008.00V1011.80M293.35 1008.00V1011.80M332.25 1008.00V1011.80M371.15 1008.00V1011.80M410.05 1008.00V1011.80M448.95 1008.00V1011.80M487.85 1008.00V1011.80M526.75 1008.00V1011.80M565.65 1008.00V1011.80" stroke="#6c6c6c" stroke-width="1" fill="none"/>
<text x="51.20" y="1012.75" font-size="13.3" font-weight="bold" text-anchor="end">0</text>
<text x="51.20" y="922.82" font-size="13.3" font-weight="bold" text-anchor="end">10</text>
<text x="51.20" y="832.89" font-size="13.3" font-weight="bold" text-anchor="end">20</text>
<text x="51.20" y="742.96" font-size="13.3" font-weight="bold" text-anchor="end">30</text>
<text x="78.30" y="1027.60" font-size="12.6" font-weight="bold" text-anchor="middle">1</text>
<text x="117.20" y="1027.60" font-size="12.6" font-weight="bold" text-anchor="middle">2</text>
<text x="156.10" y="1027.60" font-size="12.6" font-weight="bold" text-anchor="middle">3</text>
<text x="195.00" y="1027.60" font-size="12.6" font-weight="bold" text-anchor="middle">4</text>
<text x="233.90" y="1027.60" font-size="12.6" font-weight="bold" text-anchor="middle">5</text>
<text x="272.80" y="1027.60" font-size="12.6" font-weight="bold" text-anchor="middle">6</text>
<text x="311.70" y="1027.60" font-size="12.6" font-weight="bold" text-anchor="middle">7</text>
<text x="350.60" y="1027.60" font-size="12.6" font-weight="bold" text-anchor="middle">8</text>
<text x="389.50" y="1027.60" font-size="12.6" font-weight="bold" text-anchor="middle">9</text>
<text x="428.40" y="1027.60" font-size="12.6" font-weight="bold" text-anchor="middle">10</text>
<text x="467.30" y="1027.60" font-size="12.6" font-weight="bold" text-anchor="middle">11</text>
<text x="506.20" y="1027.60" font-size="12.6" font-weight="bold" text-anchor="middle">12</text>
<text x="545.10" y="1027.60" font-size="12.6" font-weight="bold" text-anchor="middle">13</text>
<text x="0.20" y="737.40" font-size="15.6" font-weight="bold" text-anchor="start">C</text>
<text x="24.00" y="1018.90" font-size="14.6" font-weight="bold" text-anchor="start" textLength="270.90" lengthAdjust="spacingAndGlyphs" transform="rotate(-90 24.00 1018.90)">per cent cells in G2-M phase of cell cycle</text>
<text x="200.40" y="1046.60" font-size="14.8" font-weight="bold" text-anchor="start" textLength="240.40" lengthAdjust="spacingAndGlyphs">pongamol (1) and derivatives (2-13)</text>
<rect x="295.40" y="742.90" width="7.40" height="7.20" fill="url(#s0)"/>
<path d="M296.20 743.80L299.10 746.86L302.00 743.80Z" fill="#fff" fill-opacity=".3"/>
<text x="306.00" y="751.30" font-size="12.3" font-weight="bold" text-anchor="start" textLength="14.80" lengthAdjust="spacingAndGlyphs">20</text>
<rect x="334.90" y="742.90" width="6.90" height="7.20" fill="url(#s1)"/>
<path d="M335.70 743.80L338.35 746.86L341.00 743.80Z" fill="#fff" fill-opacity=".3"/>
<text x="345.00" y="751.30" font-size="12.3" font-weight="bold" text-anchor="start" textLength="14.60" lengthAdjust="spacingAndGlyphs">50</text>
<rect x="373.10" y="742.90" width="7.20" height="7.20" fill="url(#s2)"/>
<path d="M373.90 743.80L376.70 746.86L379.50 743.80Z" fill="#fff" fill-opacity=".3"/>
<text x="383.30" y="751.30" font-size="12.3" font-weight="bold" text-anchor="start" textLength="21.20" lengthAdjust="spacingAndGlyphs">100</text>
<rect x="418.60" y="742.90" width="7.00" height="7.20" fill="url(#s3)"/>
<path d="M419.40 743.80L422.10 746.86L424.80 743.80Z" fill="#fff" fill-opacity=".3"/>
<text x="429.30" y="751.30" font-size="12.3" font-weight="bold" text-anchor="start" textLength="21.90" lengthAdjust="spacingAndGlyphs">150</text>
<rect x="464.30" y="742.90" width="6.90" height="7.20" fill="url(#s4)"/>
<path d="M465.10 743.80L467.75 746.86L470.40 743.80Z" fill="#fff" fill-opacity=".3"/>
<text x="474.20" y="751.30" font-size="12.3" font-weight="bold" text-anchor="start" textLength="22.70" lengthAdjust="spacingAndGlyphs">200</text>
<text x="339.30" y="771.80" font-size="13.5" font-weight="bold" text-anchor="start" textLength="118.80" lengthAdjust="spacingAndGlyphs">concentration in µg</text>
<text x="495.2" y="731.5" font-size="12.3" font-weight="bold" textLength="47.6" lengthAdjust="spacingAndGlyphs"><tspan font-style="italic">P</tspan>&lt;0.001</text>
<path d="M92.90 770.30H97.20V781.10L99.45 780.30L95.05 785.40L90.65 780.30L92.90 781.10Z" fill="#0a0a0a"/>
<path d="M128.10 770.30H132.40V781.10L134.65 780.30L130.25 785.40L125.85 780.30L128.10 781.10Z" fill="#0a0a0a"/>
<path d="M247.70 769.80H252.00V781.10L254.25 780.30L249.85 785.40L245.45 780.30L247.70 781.10Z" fill="#0a0a0a"/>
<text x="88.70" y="925.80" font-size="11.87" font-weight="bold" text-anchor="start" textLength="6.80" lengthAdjust="spacingAndGlyphs" class="h">#</text>
<text x="128.80" y="910.50" font-size="11.87" font-weight="bold" text-anchor="start" textLength="6.80" lengthAdjust="spacingAndGlyphs" class="h">#</text>
<text x="245.70" y="957.20" font-size="11.87" font-weight="bold" text-anchor="start" textLength="6.80" lengthAdjust="spacingAndGlyphs" class="h">#</text>
</svg>
</body>
</html>
